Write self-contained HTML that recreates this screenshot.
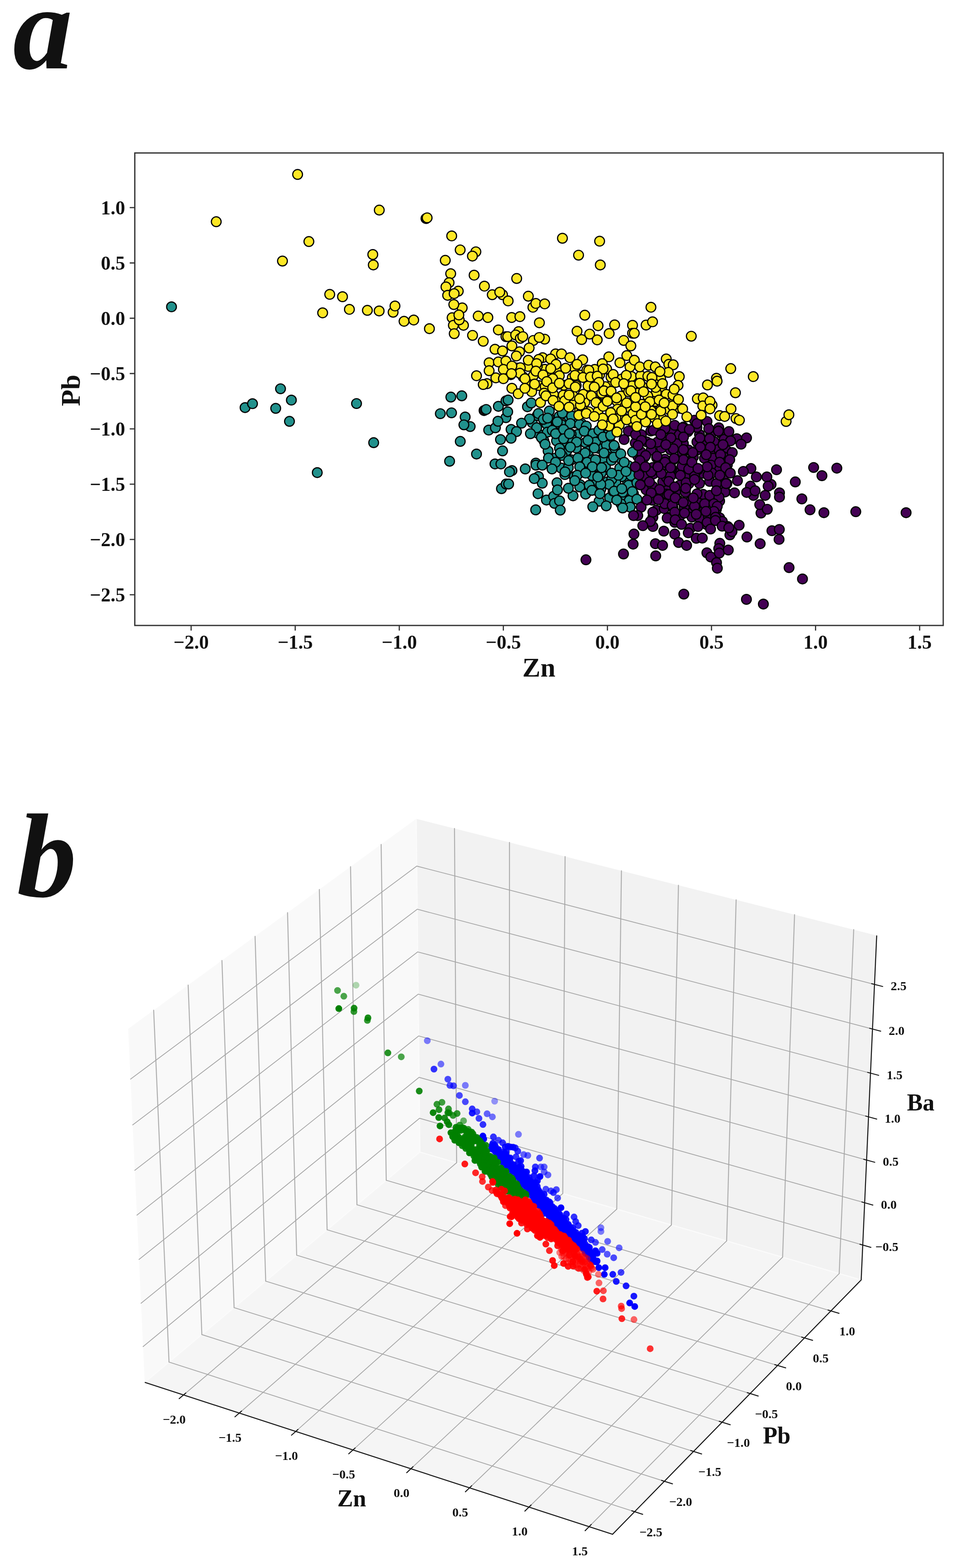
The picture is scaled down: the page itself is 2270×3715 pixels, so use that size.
<!DOCTYPE html>
<html lang="en"><head><meta charset="utf-8"><title>K-means clustering of Zn, Pb and Ba</title>
<style>html,body{margin:0;padding:0;background:#fff}body{width:2270px;height:3715px;overflow:hidden}svg{display:block}text{font-family:"Liberation Serif","DejaVu Serif",serif;font-weight:bold;fill:#111}</style></head><body>
<svg width="2270" height="3715" viewBox="0 0 2270 3715">
<rect width="2270" height="3715" fill="#fff"/>
<text x="30.5" y="162" font-size="283" font-style="italic" fill="#1a1414">a</text>
<text x="40" y="2123.5" font-size="283" font-style="italic" fill="#1a1414">b</text>
<g id="plot-a">
<rect x="319.4" y="362.4" width="1915.6" height="1119.5" fill="#fff" stroke="#333" stroke-width="3"/>
<path d="M452.9 1481.9v12M699.5 1481.9v12M946.1 1481.9v12M1192.7 1481.9v12M1439.3 1481.9v12M1685.9 1481.9v12M1932.5 1481.9v12M2179.1 1481.9v12M319.4 491.9h-12M319.4 623.0h-12M319.4 754.0h-12M319.4 885.0h-12M319.4 1016.1h-12M319.4 1147.1h-12M319.4 1278.1h-12M319.4 1409.2h-12" stroke="#333" stroke-width="2.8" fill="none"/>
<g font-size="46" text-anchor="middle">
<text x="452.9" y="1537">−2.0</text>
<text x="699.5" y="1537">−1.5</text>
<text x="946.1" y="1537">−1.0</text>
<text x="1192.7" y="1537">−0.5</text>
<text x="1439.3" y="1537">0.0</text>
<text x="1685.9" y="1537">0.5</text>
<text x="1932.5" y="1537">1.0</text>
<text x="2179.1" y="1537">1.5</text>
</g>
<g font-size="46" text-anchor="end">
<text x="296.5" y="507.9">1.0</text>
<text x="296.5" y="639.0">0.5</text>
<text x="296.5" y="770.0">0.0</text>
<text x="296.5" y="901.0">−0.5</text>
<text x="296.5" y="1032.1">−1.0</text>
<text x="296.5" y="1163.1">−1.5</text>
<text x="296.5" y="1294.1">−2.0</text>
<text x="296.5" y="1425.2">−2.5</text>
</g>
<text x="1277" y="1603.4" font-size="64" text-anchor="middle">Zn</text>
<text transform="translate(189 925) rotate(-90)" font-size="64" text-anchor="middle">Pb</text>
<g stroke="#000" stroke-width="2.7">
<g fill="#fde725">
<circle cx="1287.6" cy="887.6" r="11.6"/>
</g>
<g fill="#440154">
<circle cx="1684.4" cy="1029.1" r="11.6"/>
</g>
<g fill="#21918c">
<circle cx="1274.2" cy="1026.5" r="11.6"/>
</g>
<g fill="#440154">
<circle cx="1657.5" cy="1029.5" r="11.6"/>
</g>
<g fill="#21918c">
<circle cx="1431.0" cy="1050.0" r="11.6"/>
</g>
<g fill="#440154">
<circle cx="1605.4" cy="1121.8" r="11.6"/>
</g>
<g fill="#fde725">
<circle cx="1276.9" cy="913.4" r="11.6"/>
<circle cx="1480.4" cy="957.9" r="11.6"/>
</g>
<g fill="#21918c">
<circle cx="1444.6" cy="1061.1" r="11.6"/>
</g>
<g fill="#fde725">
<circle cx="1564.6" cy="970.0" r="11.6"/>
<circle cx="1496.3" cy="891.9" r="11.6"/>
</g>
<g fill="#440154">
<circle cx="1567.6" cy="1061.4" r="11.6"/>
</g>
<g fill="#21918c">
<circle cx="1424.6" cy="1120.4" r="11.6"/>
</g>
<g fill="#fde725">
<circle cx="1444.4" cy="928.3" r="11.6"/>
</g>
<g fill="#440154">
<circle cx="1595.0" cy="1089.3" r="11.6"/>
</g>
<g fill="#21918c">
<circle cx="1399.4" cy="1086.2" r="11.6"/>
</g>
<g fill="#440154">
<circle cx="1519.9" cy="1030.0" r="11.6"/>
</g>
<g fill="#21918c">
<circle cx="1488.4" cy="1103.1" r="11.6"/>
</g>
<g fill="#440154">
<circle cx="1632.2" cy="1145.9" r="11.6"/>
</g>
<g fill="#21918c">
<circle cx="1331.0" cy="1006.4" r="11.6"/>
</g>
<g fill="#fde725">
<circle cx="1449.5" cy="976.2" r="11.6"/>
</g>
<g fill="#440154">
<circle cx="1692.2" cy="1046.8" r="11.6"/>
</g>
<g fill="#21918c">
<circle cx="1434.8" cy="1030.7" r="11.6"/>
</g>
<g fill="#440154">
<circle cx="1505.3" cy="1049.5" r="11.6"/>
</g>
<g fill="#fde725">
<circle cx="1336.1" cy="912.8" r="11.6"/>
</g>
<g fill="#21918c">
<circle cx="1295.1" cy="1004.5" r="11.6"/>
<circle cx="1423.8" cy="1158.8" r="11.6"/>
</g>
<g fill="#fde725">
<circle cx="1480.6" cy="991.8" r="11.6"/>
</g>
<g fill="#440154">
<circle cx="1630.0" cy="1022.6" r="11.6"/>
</g>
<g fill="#fde725">
<circle cx="1586.8" cy="971.4" r="11.6"/>
</g>
<g fill="#440154">
<circle cx="1674.5" cy="1242.8" r="11.6"/>
<circle cx="1555.2" cy="1208.9" r="11.6"/>
<circle cx="1697.4" cy="1206.9" r="11.6"/>
<circle cx="1520.9" cy="1106.8" r="11.6"/>
</g>
<g fill="#21918c">
<circle cx="1288.6" cy="1044.2" r="11.6"/>
<circle cx="1467.8" cy="1186.8" r="11.6"/>
</g>
<g fill="#440154">
<circle cx="1651.4" cy="1047.0" r="11.6"/>
<circle cx="1708.6" cy="1026.7" r="11.6"/>
<circle cx="1621.3" cy="1201.2" r="11.6"/>
</g>
<g fill="#21918c">
<circle cx="1487.2" cy="1144.2" r="11.6"/>
</g>
<g fill="#fde725">
<circle cx="1320.0" cy="949.1" r="11.6"/>
</g>
<g fill="#21918c">
<circle cx="1395.1" cy="1103.1" r="11.6"/>
</g>
<g fill="#fde725">
<circle cx="1385.6" cy="953.0" r="11.6"/>
</g>
<g fill="#21918c">
<circle cx="1365.5" cy="1061.4" r="11.6"/>
</g>
<g fill="#fde725">
<circle cx="1360.9" cy="955.5" r="11.6"/>
<circle cx="1290.9" cy="874.9" r="11.6"/>
</g>
<g fill="#21918c">
<circle cx="1324.9" cy="986.6" r="11.6"/>
</g>
<g fill="#fde725">
<circle cx="1451.8" cy="907.6" r="11.6"/>
<circle cx="1414.5" cy="907.4" r="11.6"/>
<circle cx="1434.4" cy="916.1" r="11.6"/>
</g>
<g fill="#21918c">
<circle cx="1387.0" cy="1048.5" r="11.6"/>
<circle cx="1481.2" cy="1183.6" r="11.6"/>
<circle cx="1447.5" cy="1050.1" r="11.6"/>
</g>
<g fill="#440154">
<circle cx="1601.3" cy="1165.1" r="11.6"/>
</g>
<g fill="#fde725">
<circle cx="1514.1" cy="972.0" r="11.6"/>
</g>
<g fill="#21918c">
<circle cx="1473.4" cy="1129.1" r="11.6"/>
</g>
<g fill="#440154">
<circle cx="1652.8" cy="1065.8" r="11.6"/>
<circle cx="1573.9" cy="1204.9" r="11.6"/>
</g>
<g fill="#21918c">
<circle cx="1297.0" cy="1023.8" r="11.6"/>
<circle cx="1337.0" cy="1049.1" r="11.6"/>
<circle cx="1300.9" cy="989.1" r="11.6"/>
</g>
<g fill="#fde725">
<circle cx="1529.4" cy="988.8" r="11.6"/>
</g>
<g fill="#440154">
<circle cx="1584.3" cy="1225.9" r="11.6"/>
<circle cx="1543.0" cy="1066.5" r="11.6"/>
<circle cx="1669.1" cy="1085.8" r="11.6"/>
</g>
<g fill="#fde725">
<circle cx="1425.9" cy="931.6" r="11.6"/>
</g>
<g fill="#21918c">
<circle cx="1374.7" cy="1148.5" r="11.6"/>
</g>
<g fill="#fde725">
<circle cx="1361.3" cy="870.9" r="11.6"/>
<circle cx="1356.0" cy="895.0" r="11.6"/>
<circle cx="1399.6" cy="935.0" r="11.6"/>
</g>
<g fill="#21918c">
<circle cx="1321.2" cy="1022.0" r="11.6"/>
</g>
<g fill="#fde725">
<circle cx="1397.6" cy="895.4" r="11.6"/>
</g>
<g fill="#440154">
<circle cx="1722.6" cy="1068.1" r="11.6"/>
<circle cx="1591.9" cy="1022.9" r="11.6"/>
<circle cx="1618.2" cy="1086.7" r="11.6"/>
</g>
<g fill="#21918c">
<circle cx="1343.7" cy="1067.3" r="11.6"/>
</g>
<g fill="#fde725">
<circle cx="1521.5" cy="915.6" r="11.6"/>
</g>
<g fill="#440154">
<circle cx="1529.6" cy="1128.6" r="11.6"/>
<circle cx="1546.5" cy="1107.8" r="11.6"/>
<circle cx="1530.9" cy="1160.4" r="11.6"/>
</g>
<g fill="#fde725">
<circle cx="1198.3" cy="867.5" r="11.6"/>
<circle cx="1311.2" cy="934.5" r="11.6"/>
<circle cx="1393.4" cy="914.4" r="11.6"/>
</g>
<g fill="#440154">
<circle cx="1642.8" cy="1082.9" r="11.6"/>
<circle cx="1684.1" cy="1071.4" r="11.6"/>
</g>
<g fill="#21918c">
<circle cx="1444.5" cy="1179.2" r="11.6"/>
</g>
<g fill="#440154">
<circle cx="1545.5" cy="1185.0" r="11.6"/>
<circle cx="1616.1" cy="1104.3" r="11.6"/>
<circle cx="1705.1" cy="1226.7" r="11.6"/>
<circle cx="1718.5" cy="1165.1" r="11.6"/>
</g>
<g fill="#21918c">
<circle cx="1414.0" cy="1140.3" r="11.6"/>
</g>
<g fill="#440154">
<circle cx="1690.3" cy="1085.5" r="11.6"/>
</g>
<g fill="#fde725">
<circle cx="1568.5" cy="915.8" r="11.6"/>
<circle cx="1520.4" cy="957.8" r="11.6"/>
</g>
<g fill="#440154">
<circle cx="1642.8" cy="1210.9" r="11.6"/>
</g>
<g fill="#21918c">
<circle cx="1495.1" cy="1126.4" r="11.6"/>
</g>
<g fill="#440154">
<circle cx="1665.0" cy="1121.2" r="11.6"/>
</g>
<g fill="#fde725">
<circle cx="1437.5" cy="874.2" r="11.6"/>
</g>
<g fill="#440154">
<circle cx="1635.9" cy="1187.6" r="11.6"/>
</g>
<g fill="#fde725">
<circle cx="1416.3" cy="976.2" r="11.6"/>
</g>
<g fill="#21918c">
<circle cx="1427.9" cy="1087.3" r="11.6"/>
</g>
<g fill="#440154">
<circle cx="1703.0" cy="1064.4" r="11.6"/>
</g>
<g fill="#fde725">
<circle cx="1542.8" cy="973.4" r="11.6"/>
<circle cx="1611.3" cy="967.4" r="11.6"/>
<circle cx="1430.9" cy="957.1" r="11.6"/>
<circle cx="1496.9" cy="998.2" r="11.6"/>
<circle cx="1319.4" cy="874.3" r="11.6"/>
</g>
<g fill="#440154">
<circle cx="1700.1" cy="1109.2" r="11.6"/>
<circle cx="1669.4" cy="1206.2" r="11.6"/>
</g>
<g fill="#fde725">
<circle cx="1251.3" cy="868.0" r="11.6"/>
</g>
<g fill="#440154">
<circle cx="1681.5" cy="1140.5" r="11.6"/>
</g>
<g fill="#fde725">
<circle cx="1334.6" cy="936.2" r="11.6"/>
</g>
<g fill="#21918c">
<circle cx="1469.0" cy="1085.1" r="11.6"/>
<circle cx="1347.6" cy="986.9" r="11.6"/>
<circle cx="1402.8" cy="1126.5" r="11.6"/>
</g>
<g fill="#fde725">
<circle cx="1467.2" cy="1007.1" r="11.6"/>
</g>
<g fill="#21918c">
<circle cx="1452.7" cy="1163.6" r="11.6"/>
</g>
<g fill="#440154">
<circle cx="1654.1" cy="1191.5" r="11.6"/>
</g>
<g fill="#fde725">
<circle cx="1224.1" cy="871.9" r="11.6"/>
<circle cx="1325.3" cy="890.3" r="11.6"/>
</g>
<g fill="#440154">
<circle cx="1583.0" cy="1151.7" r="11.6"/>
</g>
<g fill="#fde725">
<circle cx="1502.6" cy="949.1" r="11.6"/>
</g>
<g fill="#21918c">
<circle cx="1368.3" cy="1029.4" r="11.6"/>
</g>
<g fill="#fde725">
<circle cx="1493.9" cy="967.5" r="11.6"/>
</g>
<g fill="#21918c">
<circle cx="1390.2" cy="1023.5" r="11.6"/>
<circle cx="1456.0" cy="1126.3" r="11.6"/>
</g>
<g fill="#fde725">
<circle cx="1471.2" cy="938.4" r="11.6"/>
<circle cx="1578.7" cy="934.3" r="11.6"/>
<circle cx="1395.1" cy="975.6" r="11.6"/>
</g>
<g fill="#440154">
<circle cx="1548.0" cy="1122.8" r="11.6"/>
<circle cx="1619.3" cy="1011.7" r="11.6"/>
<circle cx="1527.1" cy="1083.3" r="11.6"/>
</g>
<g fill="#fde725">
<circle cx="1338.0" cy="949.8" r="11.6"/>
</g>
<g fill="#440154">
<circle cx="1619.3" cy="1050.9" r="11.6"/>
<circle cx="1684.9" cy="1102.1" r="11.6"/>
</g>
<g fill="#fde725">
<circle cx="1373.5" cy="972.8" r="11.6"/>
</g>
<g fill="#440154">
<circle cx="1622.8" cy="1129.5" r="11.6"/>
<circle cx="1694.7" cy="1169.6" r="11.6"/>
</g>
<g fill="#fde725">
<circle cx="1510.8" cy="931.6" r="11.6"/>
<circle cx="1570.3" cy="992.8" r="11.6"/>
</g>
<g fill="#21918c">
<circle cx="1353.3" cy="1028.4" r="11.6"/>
</g>
<g fill="#fde725">
<circle cx="1263.5" cy="890.3" r="11.6"/>
<circle cx="1482.7" cy="917.4" r="11.6"/>
<circle cx="1518.0" cy="890.3" r="11.6"/>
</g>
<g fill="#21918c">
<circle cx="1456.8" cy="1061.9" r="11.6"/>
</g>
<g fill="#fde725">
<circle cx="1550.2" cy="989.8" r="11.6"/>
</g>
<g fill="#440154">
<circle cx="1574.5" cy="1045.3" r="11.6"/>
</g>
<g fill="#21918c">
<circle cx="1375.0" cy="1105.3" r="11.6"/>
</g>
<g fill="#fde725">
<circle cx="1428.0" cy="990.8" r="11.6"/>
<circle cx="1447.8" cy="893.5" r="11.6"/>
</g>
<g fill="#21918c">
<circle cx="1394.4" cy="1068.9" r="11.6"/>
</g>
<g fill="#440154">
<circle cx="1631.5" cy="1066.3" r="11.6"/>
<circle cx="1610.8" cy="1149.5" r="11.6"/>
</g>
<g fill="#fde725">
<circle cx="1555.0" cy="930.2" r="11.6"/>
</g>
<g fill="#440154">
<circle cx="1639.6" cy="1225.0" r="11.6"/>
<circle cx="1653.9" cy="1112.5" r="11.6"/>
<circle cx="1556.0" cy="1084.4" r="11.6"/>
</g>
<g fill="#21918c">
<circle cx="1360.5" cy="1129.4" r="11.6"/>
</g>
<g fill="#fde725">
<circle cx="1552.4" cy="951.1" r="11.6"/>
</g>
<g fill="#21918c">
<circle cx="1261.1" cy="1001.4" r="11.6"/>
</g>
<g fill="#440154">
<circle cx="1567.9" cy="1181.0" r="11.6"/>
<circle cx="1705.2" cy="1187.0" r="11.6"/>
<circle cx="1616.8" cy="1071.7" r="11.6"/>
</g>
<g fill="#fde725">
<circle cx="1459.3" cy="989.1" r="11.6"/>
</g>
<g fill="#21918c">
<circle cx="1331.8" cy="1079.0" r="11.6"/>
<circle cx="1417.6" cy="1105.8" r="11.6"/>
</g>
<g fill="#440154">
<circle cx="1511.1" cy="1080.8" r="11.6"/>
</g>
<g fill="#21918c">
<circle cx="1362.5" cy="1002.1" r="11.6"/>
</g>
<g fill="#440154">
<circle cx="1591.2" cy="1110.2" r="11.6"/>
</g>
<g fill="#21918c">
<circle cx="1318.7" cy="1044.5" r="11.6"/>
</g>
<g fill="#fde725">
<circle cx="1461.8" cy="950.5" r="11.6"/>
</g>
<g fill="#440154">
<circle cx="1586.4" cy="1185.8" r="11.6"/>
</g>
<g fill="#21918c">
<circle cx="1434.6" cy="1106.1" r="11.6"/>
<circle cx="1329.5" cy="1108.9" r="11.6"/>
</g>
<g fill="#fde725">
<circle cx="1291.9" cy="915.7" r="11.6"/>
<circle cx="1534.8" cy="938.2" r="11.6"/>
<circle cx="1473.3" cy="898.0" r="11.6"/>
</g>
<g fill="#440154">
<circle cx="1518.1" cy="1070.3" r="11.6"/>
</g>
<g fill="#fde725">
<circle cx="1273.3" cy="867.6" r="11.6"/>
</g>
<g fill="#440154">
<circle cx="1651.5" cy="1012.6" r="11.6"/>
</g>
<g fill="#21918c">
<circle cx="1273.0" cy="984.5" r="11.6"/>
</g>
<g fill="#fde725">
<circle cx="1565.5" cy="897.4" r="11.6"/>
</g>
<g fill="#21918c">
<circle cx="1384.6" cy="1090.1" r="11.6"/>
</g>
<g fill="#440154">
<circle cx="1605.4" cy="1184.4" r="11.6"/>
</g>
<g fill="#fde725">
<circle cx="1365.3" cy="913.4" r="11.6"/>
</g>
<g fill="#21918c">
<circle cx="1346.6" cy="1108.0" r="11.6"/>
<circle cx="1475.7" cy="1166.1" r="11.6"/>
</g>
<g fill="#fde725">
<circle cx="1373.7" cy="888.4" r="11.6"/>
</g>
<g fill="#21918c">
<circle cx="1420.9" cy="1026.5" r="11.6"/>
</g>
<g fill="#440154">
<circle cx="1579.2" cy="1170.6" r="11.6"/>
</g>
<g fill="#fde725">
<circle cx="1420.7" cy="888.1" r="11.6"/>
</g>
<g fill="#440154">
<circle cx="1705.7" cy="1150.4" r="11.6"/>
</g>
<g fill="#fde725">
<circle cx="1357.3" cy="937.2" r="11.6"/>
</g>
<g fill="#21918c">
<circle cx="1439.0" cy="1141.6" r="11.6"/>
</g>
<g fill="#fde725">
<circle cx="1497.8" cy="914.2" r="11.6"/>
<circle cx="1303.9" cy="894.6" r="11.6"/>
</g>
<g fill="#440154">
<circle cx="1569.6" cy="1103.3" r="11.6"/>
</g>
<g fill="#21918c">
<circle cx="1418.0" cy="1062.0" r="11.6"/>
</g>
<g fill="#440154">
<circle cx="1632.1" cy="1111.6" r="11.6"/>
</g>
<g fill="#21918c">
<circle cx="1500.8" cy="1169.7" r="11.6"/>
</g>
<g fill="#440154">
<circle cx="1716.0" cy="1041.1" r="11.6"/>
</g>
<g fill="#21918c">
<circle cx="1402.1" cy="1041.0" r="11.6"/>
</g>
<g fill="#440154">
<circle cx="1532.4" cy="1047.0" r="11.6"/>
</g>
<g fill="#fde725">
<circle cx="1463.3" cy="969.6" r="11.6"/>
<circle cx="1340.3" cy="872.5" r="11.6"/>
</g>
<g fill="#440154">
<circle cx="1575.0" cy="1088.0" r="11.6"/>
<circle cx="1665.9" cy="1171.2" r="11.6"/>
<circle cx="1723.4" cy="1101.6" r="11.6"/>
</g>
<g fill="#21918c">
<circle cx="1459.2" cy="1143.3" r="11.6"/>
<circle cx="1315.4" cy="1085.6" r="11.6"/>
<circle cx="1355.3" cy="1040.6" r="11.6"/>
</g>
<g fill="#fde725">
<circle cx="1253.4" cy="913.1" r="11.6"/>
<circle cx="1381.8" cy="934.2" r="11.6"/>
</g>
<g fill="#440154">
<circle cx="1657.6" cy="1227.2" r="11.6"/>
<circle cx="1594.4" cy="1202.4" r="11.6"/>
</g>
<g fill="#21918c">
<circle cx="1318.9" cy="1003.6" r="11.6"/>
</g>
<g fill="#440154">
<circle cx="1624.0" cy="1166.3" r="11.6"/>
</g>
<g fill="#fde725">
<circle cx="1489.8" cy="928.5" r="11.6"/>
<circle cx="1289.3" cy="931.4" r="11.6"/>
<circle cx="1390.8" cy="876.8" r="11.6"/>
<circle cx="1239.1" cy="892.5" r="11.6"/>
</g>
<g fill="#440154">
<circle cx="1546.4" cy="1152.2" r="11.6"/>
</g>
<g fill="#21918c">
<circle cx="1338.5" cy="1124.4" r="11.6"/>
</g>
<g fill="#fde725">
<circle cx="1572.2" cy="952.6" r="11.6"/>
</g>
<g fill="#440154">
<circle cx="1651.6" cy="1169.9" r="11.6"/>
</g>
<g fill="#21918c">
<circle cx="1353.4" cy="1089.5" r="11.6"/>
</g>
<g fill="#440154">
<circle cx="1715.4" cy="1126.6" r="11.6"/>
<circle cx="1645.8" cy="1128.6" r="11.6"/>
</g>
<g fill="#fde725">
<circle cx="1592.1" cy="958.3" r="11.6"/>
</g>
<g fill="#440154">
<circle cx="1669.6" cy="1043.1" r="11.6"/>
</g>
<g fill="#21918c">
<circle cx="1396.2" cy="1149.7" r="11.6"/>
</g>
<g fill="#440154">
<circle cx="1722.4" cy="1145.8" r="11.6"/>
<circle cx="1569.0" cy="1021.6" r="11.6"/>
</g>
<g fill="#fde725">
<circle cx="1414.6" cy="952.2" r="11.6"/>
</g>
<g fill="#440154">
<circle cx="1657.5" cy="1145.5" r="11.6"/>
</g>
<g fill="#fde725">
<circle cx="1535.1" cy="891.5" r="11.6"/>
</g>
<g fill="#21918c">
<circle cx="1409.1" cy="1161.1" r="11.6"/>
<circle cx="1449.0" cy="1090.5" r="11.6"/>
</g>
<g fill="#fde725">
<circle cx="1210.3" cy="887.7" r="11.6"/>
</g>
<g fill="#440154">
<circle cx="1682.3" cy="1184.2" r="11.6"/>
</g>
<g fill="#21918c">
<circle cx="1298.7" cy="1068.5" r="11.6"/>
</g>
<g fill="#fde725">
<circle cx="1550.6" cy="909.5" r="11.6"/>
</g>
<g fill="#440154">
<circle cx="1542.1" cy="1021.1" r="11.6"/>
</g>
<g fill="#fde725">
<circle cx="1323.4" cy="910.0" r="11.6"/>
</g>
<g fill="#440154">
<circle cx="1557.9" cy="1047.4" r="11.6"/>
<circle cx="1687.0" cy="1120.8" r="11.6"/>
</g>
<g fill="#21918c">
<circle cx="1379.2" cy="1118.5" r="11.6"/>
</g>
<g fill="#440154">
<circle cx="1588.7" cy="1065.6" r="11.6"/>
<circle cx="1558.5" cy="1169.9" r="11.6"/>
</g>
<g fill="#21918c">
<circle cx="1325.8" cy="1062.2" r="11.6"/>
</g>
<g fill="#440154">
<circle cx="1715.1" cy="1082.5" r="11.6"/>
<circle cx="1612.6" cy="1220.7" r="11.6"/>
<circle cx="1609.3" cy="1030.3" r="11.6"/>
<circle cx="1603.9" cy="1051.5" r="11.6"/>
</g>
<g fill="#21918c">
<circle cx="1468.6" cy="1109.0" r="11.6"/>
</g>
<g fill="#440154">
<circle cx="1678.7" cy="1223.4" r="11.6"/>
<circle cx="1570.4" cy="1141.5" r="11.6"/>
</g>
<g fill="#21918c">
<circle cx="1377.2" cy="1002.9" r="11.6"/>
</g>
<g fill="#440154">
<circle cx="1579.0" cy="1131.3" r="11.6"/>
</g>
<g fill="#fde725">
<circle cx="705.2" cy="413.3" r="11.6"/>
<circle cx="512.4" cy="525.3" r="11.6"/>
<circle cx="731.9" cy="572.3" r="11.6"/>
<circle cx="669.3" cy="618.5" r="11.6"/>
<circle cx="883.3" cy="603.0" r="11.6"/>
<circle cx="884.5" cy="627.7" r="11.6"/>
<circle cx="781.3" cy="697.4" r="11.6"/>
<circle cx="811.6" cy="703.0" r="11.6"/>
<circle cx="827.9" cy="732.9" r="11.6"/>
<circle cx="870.5" cy="735.3" r="11.6"/>
</g>
<g fill="#21918c">
<circle cx="406.4" cy="726.9" r="11.6"/>
</g>
<g fill="#fde725">
<circle cx="898.7" cy="497.8" r="11.6"/>
</g>
<g fill="#111">
<circle cx="1009.4" cy="517.7" r="11.6"/>
</g>
<g fill="#fde725">
<circle cx="1012.1" cy="516.1" r="11.6"/>
<circle cx="1070.3" cy="558.9" r="11.6"/>
<circle cx="1090.4" cy="592.1" r="11.6"/>
<circle cx="1127.6" cy="596.6" r="11.6"/>
<circle cx="1119.4" cy="606.7" r="11.6"/>
<circle cx="1055.1" cy="616.8" r="11.6"/>
<circle cx="1067.9" cy="648.4" r="11.6"/>
<circle cx="1123.4" cy="651.9" r="11.6"/>
<circle cx="1224.3" cy="659.8" r="11.6"/>
<circle cx="1064.1" cy="669.7" r="11.6"/>
<circle cx="1056.7" cy="679.7" r="11.6"/>
<circle cx="1085.9" cy="689.8" r="11.6"/>
<circle cx="1060.7" cy="699.7" r="11.6"/>
<circle cx="1076.1" cy="695.7" r="11.6"/>
<circle cx="1147.8" cy="677.9" r="11.6"/>
<circle cx="1166.4" cy="698.3" r="11.6"/>
<circle cx="1190.8" cy="698.3" r="11.6"/>
<circle cx="1184.2" cy="692.2" r="11.6"/>
<circle cx="1204.1" cy="712.9" r="11.6"/>
<circle cx="1251.9" cy="701.8" r="11.6"/>
<circle cx="1332.7" cy="564.5" r="11.6"/>
<circle cx="1420.8" cy="571.4" r="11.6"/>
<circle cx="1370.9" cy="604.6" r="11.6"/>
<circle cx="1422.4" cy="627.7" r="11.6"/>
<circle cx="764.5" cy="741.2" r="11.6"/>
<circle cx="898.4" cy="736.7" r="11.6"/>
</g>
<g fill="#21918c">
<circle cx="664.7" cy="921.1" r="11.6"/>
<circle cx="690.4" cy="947.9" r="11.6"/>
<circle cx="580.7" cy="965.7" r="11.6"/>
<circle cx="598.3" cy="956.4" r="11.6"/>
<circle cx="653.3" cy="967.5" r="11.6"/>
<circle cx="844.8" cy="956.1" r="11.6"/>
<circle cx="685.9" cy="998.3" r="11.6"/>
<circle cx="885.4" cy="1048.8" r="11.6"/>
<circle cx="751.8" cy="1119.7" r="11.6"/>
</g>
<g fill="#fde725">
<circle cx="931.5" cy="739.8" r="11.6"/>
<circle cx="935.9" cy="724.9" r="11.6"/>
<circle cx="957.4" cy="761.2" r="11.6"/>
<circle cx="980.3" cy="758.2" r="11.6"/>
<circle cx="1017.5" cy="778.7" r="11.6"/>
<circle cx="1095.2" cy="729.5" r="11.6"/>
<circle cx="1075.3" cy="721.5" r="11.6"/>
<circle cx="1071.3" cy="752.8" r="11.6"/>
<circle cx="1074.3" cy="770.7" r="11.6"/>
<circle cx="1098.2" cy="770.7" r="11.6"/>
<circle cx="1088.2" cy="757.8" r="11.6"/>
<circle cx="1087.3" cy="746.2" r="11.6"/>
<circle cx="1076.3" cy="790.6" r="11.6"/>
<circle cx="1133.1" cy="748.8" r="11.6"/>
<circle cx="1156.0" cy="752.2" r="11.6"/>
<circle cx="1119.7" cy="794.6" r="11.6"/>
<circle cx="1145.0" cy="808.6" r="11.6"/>
<circle cx="1180.9" cy="781.7" r="11.6"/>
<circle cx="1198.8" cy="797.6" r="11.6"/>
<circle cx="1172.9" cy="827.5" r="11.6"/>
<circle cx="1190.8" cy="831.5" r="11.6"/>
<circle cx="1159.0" cy="859.4" r="11.6"/>
<circle cx="1180.9" cy="857.4" r="11.6"/>
<circle cx="1198.8" cy="855.4" r="11.6"/>
<circle cx="1174.9" cy="895.2" r="11.6"/>
<circle cx="1159.0" cy="878.3" r="11.6"/>
<circle cx="1192.8" cy="875.3" r="11.6"/>
<circle cx="1129.1" cy="890.2" r="11.6"/>
<circle cx="1192.8" cy="897.2" r="11.6"/>
<circle cx="1262.7" cy="727.9" r="11.6"/>
<circle cx="1269.7" cy="718.9" r="11.6"/>
<circle cx="1290.6" cy="719.9" r="11.6"/>
<circle cx="1212.4" cy="752.2" r="11.6"/>
<circle cx="1231.9" cy="750.2" r="11.6"/>
<circle cx="1278.1" cy="764.7" r="11.6"/>
<circle cx="1385.7" cy="746.8" r="11.6"/>
<circle cx="1417.1" cy="771.7" r="11.6"/>
<circle cx="1456.4" cy="769.7" r="11.6"/>
<circle cx="1498.8" cy="770.7" r="11.6"/>
<circle cx="1378.3" cy="804.6" r="11.6"/>
<circle cx="1367.3" cy="784.7" r="11.6"/>
<circle cx="1397.2" cy="791.6" r="11.6"/>
<circle cx="1415.1" cy="805.2" r="11.6"/>
<circle cx="1443.4" cy="790.2" r="11.6"/>
<circle cx="1477.9" cy="806.6" r="11.6"/>
<circle cx="1498.8" cy="789.6" r="11.6"/>
<circle cx="1494.8" cy="819.5" r="11.6"/>
<circle cx="1228.9" cy="785.7" r="11.6"/>
<circle cx="1203.0" cy="797.6" r="11.6"/>
<circle cx="1221.9" cy="793.6" r="11.6"/>
<circle cx="1232.9" cy="801.6" r="11.6"/>
<circle cx="1238.8" cy="797.6" r="11.6"/>
<circle cx="1263.7" cy="806.6" r="11.6"/>
<circle cx="1290.6" cy="803.6" r="11.6"/>
<circle cx="1277.7" cy="799.6" r="11.6"/>
<circle cx="1230.9" cy="833.5" r="11.6"/>
<circle cx="1212.9" cy="819.5" r="11.6"/>
<circle cx="1253.8" cy="824.5" r="11.6"/>
<circle cx="1223.5" cy="843.4" r="11.6"/>
<circle cx="1316.5" cy="838.4" r="11.6"/>
<circle cx="1330.5" cy="838.4" r="11.6"/>
<circle cx="1350.4" cy="847.4" r="11.6"/>
<circle cx="1380.7" cy="852.4" r="11.6"/>
<circle cx="1442.6" cy="845.4" r="11.6"/>
<circle cx="1485.3" cy="842.4" r="11.6"/>
<circle cx="1468.9" cy="859.4" r="11.6"/>
<circle cx="1285.7" cy="847.4" r="11.6"/>
<circle cx="1251.8" cy="853.4" r="11.6"/>
<circle cx="1276.7" cy="851.4" r="11.6"/>
<circle cx="1271.7" cy="861.4" r="11.6"/>
<circle cx="1304.6" cy="850.4" r="11.6"/>
<circle cx="1317.5" cy="863.3" r="11.6"/>
<circle cx="1305.0" cy="873.3" r="11.6"/>
<circle cx="1367.3" cy="863.3" r="11.6"/>
<circle cx="1409.2" cy="875.3" r="11.6"/>
<circle cx="1395.2" cy="877.3" r="11.6"/>
<circle cx="1427.1" cy="861.4" r="11.6"/>
<circle cx="1429.1" cy="874.3" r="11.6"/>
<circle cx="1492.8" cy="869.3" r="11.6"/>
<circle cx="1232.9" cy="871.3" r="11.6"/>
<circle cx="1212.9" cy="867.3" r="11.6"/>
<circle cx="1231.9" cy="884.3" r="11.6"/>
<circle cx="1212.0" cy="885.3" r="11.6"/>
<circle cx="1269.7" cy="879.3" r="11.6"/>
<circle cx="1286.7" cy="888.2" r="11.6"/>
<circle cx="1243.8" cy="897.2" r="11.6"/>
<circle cx="1309.6" cy="897.2" r="11.6"/>
<circle cx="1362.4" cy="889.2" r="11.6"/>
<circle cx="1381.3" cy="894.2" r="11.6"/>
<circle cx="1399.2" cy="893.2" r="11.6"/>
<circle cx="1415.1" cy="891.2" r="11.6"/>
<circle cx="1453.0" cy="887.3" r="11.6"/>
<circle cx="1483.9" cy="889.2" r="11.6"/>
<circle cx="1542.4" cy="727.9" r="11.6"/>
<circle cx="1530.9" cy="770.1" r="11.6"/>
<circle cx="1546.2" cy="762.4" r="11.6"/>
<circle cx="1503.0" cy="789.6" r="11.6"/>
<circle cx="1638.0" cy="796.6" r="11.6"/>
<circle cx="1503.0" cy="853.4" r="11.6"/>
<circle cx="1515.9" cy="869.3" r="11.6"/>
<circle cx="1536.9" cy="865.3" r="11.6"/>
<circle cx="1552.8" cy="869.3" r="11.6"/>
<circle cx="1578.7" cy="850.4" r="11.6"/>
<circle cx="1584.7" cy="863.3" r="11.6"/>
<circle cx="1595.2" cy="864.3" r="11.6"/>
<circle cx="1583.7" cy="882.3" r="11.6"/>
<circle cx="1563.7" cy="880.3" r="11.6"/>
<circle cx="1609.6" cy="892.2" r="11.6"/>
<circle cx="1544.8" cy="894.2" r="11.6"/>
<circle cx="1731.5" cy="873.3" r="11.6"/>
<circle cx="1697.6" cy="896.2" r="11.6"/>
<circle cx="1784.9" cy="892.2" r="11.6"/>
<circle cx="1154.0" cy="909.0" r="11.6"/>
<circle cx="1145.0" cy="911.0" r="11.6"/>
</g>
<g fill="#21918c">
<circle cx="1068.3" cy="940.8" r="11.6"/>
<circle cx="1094.2" cy="937.8" r="11.6"/>
<circle cx="1043.4" cy="980.1" r="11.6"/>
<circle cx="1069.9" cy="978.1" r="11.6"/>
<circle cx="1102.2" cy="988.0" r="11.6"/>
<circle cx="1114.1" cy="1010.6" r="11.6"/>
<circle cx="1099.2" cy="1006.6" r="11.6"/>
</g>
<g fill="#111">
<circle cx="1147.0" cy="972.7" r="11.6"/>
</g>
<g fill="#21918c">
<circle cx="1152.0" cy="970.1" r="11.6"/>
<circle cx="1180.9" cy="962.7" r="11.6"/>
<circle cx="1198.8" cy="949.8" r="11.6"/>
<circle cx="1198.8" cy="989.6" r="11.6"/>
<circle cx="1158.0" cy="1018.9" r="11.6"/>
<circle cx="1173.9" cy="1013.5" r="11.6"/>
<circle cx="1179.9" cy="998.0" r="11.6"/>
<circle cx="1090.6" cy="1045.8" r="11.6"/>
<circle cx="1129.1" cy="1075.7" r="11.6"/>
<circle cx="1065.3" cy="1092.8" r="11.6"/>
<circle cx="1185.9" cy="1041.4" r="11.6"/>
<circle cx="1190.8" cy="1068.3" r="11.6"/>
<circle cx="1172.9" cy="1099.2" r="11.6"/>
<circle cx="1186.9" cy="1099.2" r="11.6"/>
<circle cx="1204.0" cy="947.8" r="11.6"/>
<circle cx="1203.0" cy="975.7" r="11.6"/>
<circle cx="1249.8" cy="963.7" r="11.6"/>
<circle cx="1258.8" cy="954.8" r="11.6"/>
<circle cx="1275.7" cy="979.7" r="11.6"/>
<circle cx="1254.8" cy="992.6" r="11.6"/>
<circle cx="1235.9" cy="1002.6" r="11.6"/>
<circle cx="1301.6" cy="973.7" r="11.6"/>
<circle cx="1287.6" cy="993.6" r="11.6"/>
<circle cx="1297.6" cy="990.6" r="11.6"/>
<circle cx="1332.5" cy="978.7" r="11.6"/>
<circle cx="1354.4" cy="985.7" r="11.6"/>
<circle cx="1320.5" cy="999.6" r="11.6"/>
<circle cx="1351.4" cy="1003.6" r="11.6"/>
<circle cx="1271.7" cy="1013.5" r="11.6"/>
<circle cx="1211.0" cy="1017.5" r="11.6"/>
<circle cx="1223.9" cy="1022.5" r="11.6"/>
<circle cx="1256.8" cy="1027.5" r="11.6"/>
<circle cx="1211.0" cy="1038.4" r="11.6"/>
<circle cx="1282.7" cy="1036.5" r="11.6"/>
<circle cx="1308.6" cy="1019.5" r="11.6"/>
<circle cx="1316.5" cy="1027.5" r="11.6"/>
<circle cx="1335.5" cy="1017.5" r="11.6"/>
<circle cx="1335.5" cy="1039.4" r="11.6"/>
<circle cx="1291.6" cy="1052.4" r="11.6"/>
<circle cx="1349.4" cy="1027.5" r="11.6"/>
<circle cx="1373.3" cy="1005.6" r="11.6"/>
<circle cx="1389.2" cy="1009.6" r="11.6"/>
<circle cx="1384.3" cy="1021.5" r="11.6"/>
<circle cx="1405.2" cy="1027.5" r="11.6"/>
<circle cx="1419.1" cy="1019.5" r="11.6"/>
<circle cx="1366.3" cy="1047.4" r="11.6"/>
<circle cx="1411.2" cy="1047.4" r="11.6"/>
<circle cx="1393.2" cy="1043.4" r="11.6"/>
<circle cx="1351.4" cy="1059.4" r="11.6"/>
<circle cx="1327.5" cy="1073.3" r="11.6"/>
<circle cx="1386.3" cy="1073.3" r="11.6"/>
<circle cx="1408.2" cy="1061.4" r="11.6"/>
<circle cx="1437.1" cy="1054.4" r="11.6"/>
<circle cx="1429.1" cy="1035.5" r="11.6"/>
<circle cx="1447.0" cy="1031.5" r="11.6"/>
<circle cx="1431.1" cy="1073.3" r="11.6"/>
<circle cx="1455.0" cy="1055.4" r="11.6"/>
<circle cx="1454.0" cy="1083.3" r="11.6"/>
<circle cx="1470.9" cy="1075.3" r="11.6"/>
<circle cx="1299.6" cy="1085.3" r="11.6"/>
<circle cx="1269.7" cy="1097.2" r="11.6"/>
<circle cx="1316.5" cy="1095.2" r="11.6"/>
<circle cx="1347.4" cy="1091.2" r="11.6"/>
<circle cx="1369.3" cy="1085.3" r="11.6"/>
<circle cx="1391.2" cy="1095.2" r="11.6"/>
<circle cx="1411.2" cy="1089.2" r="11.6"/>
<circle cx="1478.9" cy="1095.2" r="11.6"/>
<circle cx="1498.8" cy="1071.3" r="11.6"/>
</g>
<g fill="#440154">
<circle cx="1488.8" cy="1021.5" r="11.6"/>
<circle cx="1478.9" cy="1041.4" r="11.6"/>
</g>
<g fill="#fde725">
<circle cx="1259.8" cy="927.9" r="11.6"/>
<circle cx="1212.9" cy="919.9" r="11.6"/>
<circle cx="1227.9" cy="932.9" r="11.6"/>
<circle cx="1243.8" cy="919.9" r="11.6"/>
<circle cx="1266.7" cy="910.0" r="11.6"/>
<circle cx="1295.6" cy="904.0" r="11.6"/>
<circle cx="1280.7" cy="953.8" r="11.6"/>
<circle cx="1293.6" cy="937.8" r="11.6"/>
<circle cx="1309.6" cy="918.9" r="11.6"/>
<circle cx="1310.6" cy="948.8" r="11.6"/>
<circle cx="1325.5" cy="908.0" r="11.6"/>
<circle cx="1324.5" cy="962.7" r="11.6"/>
<circle cx="1348.4" cy="909.0" r="11.6"/>
<circle cx="1363.3" cy="916.9" r="11.6"/>
<circle cx="1348.4" cy="935.9" r="11.6"/>
<circle cx="1379.3" cy="969.7" r="11.6"/>
<circle cx="1375.3" cy="959.8" r="11.6"/>
<circle cx="1371.3" cy="983.7" r="11.6"/>
<circle cx="1389.2" cy="979.7" r="11.6"/>
<circle cx="1348.4" cy="964.7" r="11.6"/>
<circle cx="1373.3" cy="944.8" r="11.6"/>
<circle cx="1419.1" cy="906.0" r="11.6"/>
<circle cx="1408.2" cy="916.9" r="11.6"/>
<circle cx="1401.2" cy="937.8" r="11.6"/>
<circle cx="1412.2" cy="953.8" r="11.6"/>
<circle cx="1429.1" cy="962.7" r="11.6"/>
<circle cx="1431.1" cy="925.9" r="11.6"/>
<circle cx="1448.0" cy="926.9" r="11.6"/>
<circle cx="1439.0" cy="950.8" r="11.6"/>
<circle cx="1408.2" cy="986.7" r="11.6"/>
<circle cx="1443.0" cy="1009.6" r="11.6"/>
<circle cx="1427.1" cy="1006.6" r="11.6"/>
<circle cx="1447.0" cy="977.7" r="11.6"/>
<circle cx="1453.0" cy="992.6" r="11.6"/>
<circle cx="1461.0" cy="942.8" r="11.6"/>
<circle cx="1472.9" cy="973.7" r="11.6"/>
<circle cx="1484.9" cy="954.8" r="11.6"/>
<circle cx="1484.9" cy="994.6" r="11.6"/>
<circle cx="1459.0" cy="906.0" r="11.6"/>
<circle cx="1477.9" cy="909.0" r="11.6"/>
<circle cx="1462.0" cy="1023.5" r="11.6"/>
<circle cx="1494.8" cy="925.9" r="11.6"/>
</g>
<g fill="#440154">
<circle cx="1645.4" cy="995.6" r="11.6"/>
<circle cx="1651.4" cy="1003.6" r="11.6"/>
<circle cx="1675.3" cy="998.6" r="11.6"/>
<circle cx="1598.6" cy="1007.6" r="11.6"/>
<circle cx="1617.5" cy="1013.5" r="11.6"/>
<circle cx="1633.5" cy="1017.5" r="11.6"/>
<circle cx="1679.3" cy="1015.5" r="11.6"/>
<circle cx="1703.2" cy="1013.5" r="11.6"/>
<circle cx="1702.2" cy="1021.5" r="11.6"/>
<circle cx="1727.1" cy="1022.5" r="11.6"/>
<circle cx="1575.7" cy="1015.5" r="11.6"/>
<circle cx="1547.8" cy="1019.5" r="11.6"/>
<circle cx="1506.0" cy="1029.5" r="11.6"/>
<circle cx="1519.9" cy="1043.4" r="11.6"/>
<circle cx="1541.8" cy="1051.4" r="11.6"/>
<circle cx="1565.7" cy="1029.5" r="11.6"/>
<circle cx="1589.6" cy="1037.5" r="11.6"/>
<circle cx="1619.5" cy="1035.5" r="11.6"/>
<circle cx="1658.4" cy="1037.5" r="11.6"/>
<circle cx="1681.3" cy="1039.4" r="11.6"/>
<circle cx="1746.0" cy="1039.4" r="11.6"/>
<circle cx="1731.1" cy="1044.4" r="11.6"/>
<circle cx="1768.9" cy="1037.5" r="11.6"/>
<circle cx="1756.0" cy="1052.4" r="11.6"/>
<circle cx="1713.1" cy="1053.4" r="11.6"/>
<circle cx="1659.4" cy="1059.4" r="11.6"/>
<circle cx="1683.3" cy="1059.4" r="11.6"/>
<circle cx="1595.6" cy="1063.3" r="11.6"/>
<circle cx="1619.5" cy="1065.3" r="11.6"/>
<circle cx="1577.7" cy="1053.4" r="11.6"/>
<circle cx="1641.4" cy="1072.3" r="11.6"/>
<circle cx="1673.3" cy="1077.3" r="11.6"/>
<circle cx="1707.2" cy="1077.3" r="11.6"/>
<circle cx="1735.1" cy="1072.3" r="11.6"/>
<circle cx="1512.0" cy="1055.4" r="11.6"/>
<circle cx="1556.8" cy="1081.3" r="11.6"/>
<circle cx="1529.9" cy="1079.3" r="11.6"/>
<circle cx="1619.5" cy="1089.2" r="11.6"/>
<circle cx="1597.6" cy="1086.3" r="11.6"/>
<circle cx="1575.7" cy="1095.2" r="11.6"/>
<circle cx="1515.9" cy="1091.2" r="11.6"/>
<circle cx="1705.2" cy="1095.2" r="11.6"/>
<circle cx="1729.1" cy="1089.2" r="11.6"/>
<circle cx="1639.4" cy="1095.2" r="11.6"/>
</g>
<g fill="#fde725">
<circle cx="1500.0" cy="979.7" r="11.6"/>
<circle cx="1506.0" cy="995.6" r="11.6"/>
<circle cx="1529.9" cy="999.6" r="11.6"/>
<circle cx="1557.8" cy="1003.6" r="11.6"/>
<circle cx="1565.7" cy="973.7" r="11.6"/>
<circle cx="1593.6" cy="961.8" r="11.6"/>
<circle cx="1506.0" cy="963.7" r="11.6"/>
<circle cx="1519.9" cy="981.7" r="11.6"/>
<circle cx="1539.8" cy="951.8" r="11.6"/>
<circle cx="1561.8" cy="947.8" r="11.6"/>
<circle cx="1594.6" cy="935.9" r="11.6"/>
<circle cx="1606.6" cy="912.9" r="11.6"/>
<circle cx="1597.6" cy="921.9" r="11.6"/>
<circle cx="1553.8" cy="917.9" r="11.6"/>
<circle cx="1543.8" cy="910.0" r="11.6"/>
<circle cx="1515.9" cy="908.0" r="11.6"/>
<circle cx="1524.9" cy="927.9" r="11.6"/>
<circle cx="1569.7" cy="909.0" r="11.6"/>
<circle cx="1506.0" cy="941.8" r="11.6"/>
<circle cx="1607.6" cy="946.2" r="11.6"/>
<circle cx="1573.7" cy="954.8" r="11.6"/>
<circle cx="1528.9" cy="963.7" r="11.6"/>
<circle cx="1543.8" cy="981.7" r="11.6"/>
<circle cx="1617.5" cy="968.7" r="11.6"/>
<circle cx="1593.6" cy="981.7" r="11.6"/>
<circle cx="1577.7" cy="997.6" r="11.6"/>
<circle cx="1627.5" cy="987.6" r="11.6"/>
<circle cx="1509.0" cy="1010.6" r="11.6"/>
<circle cx="1676.3" cy="912.0" r="11.6"/>
<circle cx="1699.2" cy="903.0" r="11.6"/>
<circle cx="1742.6" cy="930.5" r="11.6"/>
<circle cx="1652.4" cy="944.8" r="11.6"/>
<circle cx="1666.3" cy="942.8" r="11.6"/>
<circle cx="1687.3" cy="959.8" r="11.6"/>
<circle cx="1665.3" cy="961.8" r="11.6"/>
<circle cx="1682.3" cy="950.8" r="11.6"/>
<circle cx="1682.3" cy="968.7" r="11.6"/>
<circle cx="1661.4" cy="983.7" r="11.6"/>
<circle cx="1732.1" cy="968.7" r="11.6"/>
<circle cx="1705.2" cy="984.7" r="11.6"/>
<circle cx="1717.1" cy="986.7" r="11.6"/>
<circle cx="1744.0" cy="991.6" r="11.6"/>
<circle cx="1752.0" cy="995.6" r="11.6"/>
<circle cx="1862.7" cy="998.6" r="11.6"/>
<circle cx="1869.3" cy="982.7" r="11.6"/>
</g>
<g fill="#21918c">
<circle cx="1213.1" cy="1114.9" r="11.6"/>
<circle cx="1207.2" cy="1117.9" r="11.6"/>
<circle cx="1244.6" cy="1111.0" r="11.6"/>
<circle cx="1269.9" cy="1102.0" r="11.6"/>
<circle cx="1284.9" cy="1102.0" r="11.6"/>
<circle cx="1275.9" cy="1128.9" r="11.6"/>
<circle cx="1284.9" cy="1144.8" r="11.6"/>
<circle cx="1265.9" cy="1133.9" r="11.6"/>
<circle cx="1188.2" cy="1157.8" r="11.6"/>
<circle cx="1199.2" cy="1146.8" r="11.6"/>
<circle cx="1205.2" cy="1146.8" r="11.6"/>
<circle cx="1274.9" cy="1169.7" r="11.6"/>
<circle cx="1294.8" cy="1184.7" r="11.6"/>
<circle cx="1269.3" cy="1208.0" r="11.6"/>
<circle cx="1373.7" cy="1106.0" r="11.6"/>
<circle cx="1403.6" cy="1106.0" r="11.6"/>
<circle cx="1367.7" cy="1125.9" r="11.6"/>
<circle cx="1319.9" cy="1143.8" r="11.6"/>
<circle cx="1373.7" cy="1153.8" r="11.6"/>
<circle cx="1357.8" cy="1174.7" r="11.6"/>
<circle cx="1312.0" cy="1175.7" r="11.6"/>
<circle cx="1313.9" cy="1192.6" r="11.6"/>
<circle cx="1449.4" cy="1135.9" r="11.6"/>
<circle cx="1443.4" cy="1147.8" r="11.6"/>
<circle cx="1423.5" cy="1147.8" r="11.6"/>
<circle cx="1387.6" cy="1170.7" r="11.6"/>
<circle cx="1419.5" cy="1187.6" r="11.6"/>
<circle cx="1455.4" cy="1163.7" r="11.6"/>
<circle cx="1465.3" cy="1125.9" r="11.6"/>
<circle cx="1489.2" cy="1149.8" r="11.6"/>
<circle cx="1509.2" cy="1143.8" r="11.6"/>
<circle cx="1491.2" cy="1185.7" r="11.6"/>
<circle cx="1471.3" cy="1193.6" r="11.6"/>
<circle cx="1493.2" cy="1201.6" r="11.6"/>
<circle cx="1475.3" cy="1203.6" r="11.6"/>
<circle cx="1308.0" cy="1111.0" r="11.6"/>
<circle cx="1338.8" cy="1117.9" r="11.6"/>
<circle cx="1320.9" cy="1160.8" r="11.6"/>
<circle cx="1346.8" cy="1156.8" r="11.6"/>
<circle cx="1361.8" cy="1138.8" r="11.6"/>
<circle cx="1387.6" cy="1120.9" r="11.6"/>
<circle cx="1325.9" cy="1186.7" r="11.6"/>
<circle cx="1327.5" cy="1208.6" r="11.6"/>
<circle cx="1416.5" cy="1129.9" r="11.6"/>
<circle cx="1425.5" cy="1108.0" r="11.6"/>
<circle cx="1449.4" cy="1120.9" r="11.6"/>
<circle cx="1402.6" cy="1161.8" r="11.6"/>
<circle cx="1421.5" cy="1169.7" r="11.6"/>
<circle cx="1404.6" cy="1200.6" r="11.6"/>
<circle cx="1436.5" cy="1198.6" r="11.6"/>
<circle cx="1461.4" cy="1184.7" r="11.6"/>
<circle cx="1473.3" cy="1157.8" r="11.6"/>
<circle cx="1483.3" cy="1116.9" r="11.6"/>
<circle cx="1498.2" cy="1164.7" r="11.6"/>
<circle cx="1509.2" cy="1182.7" r="11.6"/>
</g>
<g fill="#440154">
<circle cx="1588.8" cy="1127.9" r="11.6"/>
<circle cx="1539.0" cy="1141.8" r="11.6"/>
<circle cx="1562.9" cy="1159.8" r="11.6"/>
<circle cx="1543.0" cy="1167.7" r="11.6"/>
<circle cx="1574.9" cy="1193.6" r="11.6"/>
<circle cx="1519.1" cy="1201.6" r="11.6"/>
<circle cx="1511.2" cy="1221.5" r="11.6"/>
<circle cx="1547.0" cy="1225.5" r="11.6"/>
<circle cx="1547.0" cy="1247.4" r="11.6"/>
<circle cx="1553.0" cy="1288.2" r="11.6"/>
<circle cx="1598.8" cy="1237.5" r="11.6"/>
<circle cx="1514.1" cy="1124.9" r="11.6"/>
<circle cx="1543.0" cy="1117.9" r="11.6"/>
<circle cx="1566.9" cy="1121.9" r="11.6"/>
<circle cx="1517.1" cy="1148.8" r="11.6"/>
<circle cx="1584.9" cy="1140.8" r="11.6"/>
<circle cx="1533.1" cy="1184.7" r="11.6"/>
<circle cx="1560.0" cy="1183.7" r="11.6"/>
<circle cx="1584.9" cy="1171.7" r="11.6"/>
<circle cx="1592.8" cy="1197.6" r="11.6"/>
<circle cx="1547.0" cy="1213.5" r="11.6"/>
<circle cx="1501.2" cy="1221.5" r="11.6"/>
<circle cx="1580.9" cy="1227.5" r="11.6"/>
<circle cx="1541.0" cy="1235.5" r="11.6"/>
<circle cx="1523.1" cy="1245.4" r="11.6"/>
<circle cx="1572.9" cy="1258.4" r="11.6"/>
<circle cx="1502.2" cy="1265.3" r="11.6"/>
<circle cx="1500.2" cy="1289.2" r="11.6"/>
<circle cx="1569.9" cy="1292.2" r="11.6"/>
<circle cx="1598.8" cy="1265.3" r="11.6"/>
<circle cx="1505.2" cy="1106.0" r="11.6"/>
<circle cx="1529.1" cy="1106.0" r="11.6"/>
<circle cx="1559.0" cy="1106.0" r="11.6"/>
<circle cx="1588.8" cy="1108.0" r="11.6"/>
<circle cx="1598.8" cy="1153.8" r="11.6"/>
<circle cx="1598.8" cy="1213.5" r="11.6"/>
<circle cx="1827.1" cy="1147.8" r="11.6"/>
<circle cx="1719.5" cy="1108.0" r="11.6"/>
<circle cx="1612.0" cy="1125.9" r="11.6"/>
<circle cx="1677.7" cy="1125.9" r="11.6"/>
<circle cx="1625.9" cy="1143.8" r="11.6"/>
<circle cx="1645.8" cy="1135.9" r="11.6"/>
<circle cx="1697.6" cy="1145.8" r="11.6"/>
<circle cx="1717.5" cy="1165.7" r="11.6"/>
<circle cx="1681.7" cy="1173.7" r="11.6"/>
<circle cx="1703.6" cy="1177.7" r="11.6"/>
<circle cx="1778.3" cy="1151.8" r="11.6"/>
<circle cx="1785.3" cy="1173.7" r="11.6"/>
<circle cx="1847.0" cy="1167.7" r="11.6"/>
<circle cx="1803.2" cy="1215.5" r="11.6"/>
<circle cx="1600.0" cy="1179.7" r="11.6"/>
<circle cx="1645.8" cy="1199.6" r="11.6"/>
<circle cx="1669.7" cy="1193.6" r="11.6"/>
<circle cx="1691.6" cy="1193.6" r="11.6"/>
<circle cx="1699.6" cy="1199.6" r="11.6"/>
<circle cx="1691.6" cy="1211.6" r="11.6"/>
<circle cx="1695.6" cy="1225.5" r="11.6"/>
<circle cx="1711.6" cy="1235.5" r="11.6"/>
<circle cx="1675.7" cy="1237.5" r="11.6"/>
<circle cx="1600.0" cy="1231.5" r="11.6"/>
<circle cx="1635.9" cy="1251.4" r="11.6"/>
<circle cx="1653.8" cy="1247.4" r="11.6"/>
<circle cx="1649.8" cy="1275.3" r="11.6"/>
<circle cx="1724.5" cy="1247.4" r="11.6"/>
<circle cx="1729.5" cy="1267.3" r="11.6"/>
<circle cx="1829.1" cy="1257.4" r="11.6"/>
<circle cx="1840.0" cy="1112.9" r="11.6"/>
<circle cx="1884.5" cy="1141.8" r="11.6"/>
<circle cx="1792.2" cy="1129.9" r="11.6"/>
<circle cx="1817.1" cy="1129.9" r="11.6"/>
<circle cx="1820.1" cy="1151.8" r="11.6"/>
<circle cx="1779.3" cy="1110.0" r="11.6"/>
<circle cx="1761.4" cy="1116.9" r="11.6"/>
<circle cx="1747.4" cy="1138.8" r="11.6"/>
<circle cx="1730.5" cy="1120.9" r="11.6"/>
<circle cx="1705.6" cy="1125.9" r="11.6"/>
<circle cx="1675.7" cy="1106.0" r="11.6"/>
<circle cx="1653.8" cy="1110.0" r="11.6"/>
<circle cx="1624.9" cy="1156.8" r="11.6"/>
<circle cx="1720.5" cy="1145.8" r="11.6"/>
<circle cx="1697.6" cy="1162.7" r="11.6"/>
<circle cx="1740.4" cy="1167.7" r="11.6"/>
<circle cx="1769.3" cy="1166.7" r="11.6"/>
<circle cx="1789.2" cy="1162.7" r="11.6"/>
<circle cx="1813.1" cy="1173.7" r="11.6"/>
<circle cx="1847.0" cy="1177.7" r="11.6"/>
<circle cx="1800.2" cy="1195.6" r="11.6"/>
<circle cx="1818.1" cy="1206.6" r="11.6"/>
<circle cx="1642.8" cy="1179.7" r="11.6"/>
<circle cx="1618.9" cy="1190.6" r="11.6"/>
<circle cx="1672.7" cy="1211.6" r="11.6"/>
<circle cx="1649.8" cy="1218.5" r="11.6"/>
<circle cx="1621.9" cy="1215.5" r="11.6"/>
<circle cx="1614.9" cy="1242.4" r="11.6"/>
<circle cx="1683.7" cy="1253.4" r="11.6"/>
<circle cx="1630.9" cy="1262.4" r="11.6"/>
<circle cx="1608.0" cy="1285.3" r="11.6"/>
<circle cx="1626.9" cy="1292.2" r="11.6"/>
<circle cx="1664.1" cy="1274.9" r="11.6"/>
<circle cx="1705.6" cy="1287.3" r="11.6"/>
<circle cx="1751.4" cy="1244.4" r="11.6"/>
<circle cx="1734.5" cy="1259.4" r="11.6"/>
<circle cx="1769.9" cy="1272.3" r="11.6"/>
<circle cx="1801.2" cy="1288.2" r="11.6"/>
<circle cx="1846.6" cy="1254.4" r="11.6"/>
<circle cx="1846.0" cy="1277.9" r="11.6"/>
<circle cx="1927.9" cy="1107.6" r="11.6"/>
<circle cx="1982.9" cy="1109.2" r="11.6"/>
<circle cx="1947.6" cy="1127.0" r="11.6"/>
<circle cx="1900.0" cy="1182.0" r="11.6"/>
<circle cx="1919.4" cy="1207.8" r="11.6"/>
<circle cx="1952.3" cy="1214.7" r="11.6"/>
<circle cx="2027.8" cy="1212.3" r="11.6"/>
<circle cx="2147.0" cy="1214.7" r="11.6"/>
<circle cx="1388.4" cy="1326.3" r="11.6"/>
<circle cx="1477.4" cy="1312.5" r="11.6"/>
<circle cx="1553.7" cy="1317.0" r="11.6"/>
<circle cx="1675.0" cy="1309.8" r="11.6"/>
<circle cx="1684.3" cy="1319.7" r="11.6"/>
<circle cx="1620.3" cy="1407.6" r="11.6"/>
<circle cx="1695.2" cy="1233.3" r="11.6"/>
<circle cx="1711.1" cy="1246.6" r="11.6"/>
<circle cx="1727.0" cy="1250.5" r="11.6"/>
<circle cx="1703.1" cy="1299.7" r="11.6"/>
<circle cx="1704.4" cy="1310.3" r="11.6"/>
<circle cx="1697.8" cy="1332.9" r="11.6"/>
<circle cx="1725.7" cy="1303.1" r="11.6"/>
<circle cx="1699.7" cy="1346.2" r="11.6"/>
<circle cx="1869.7" cy="1344.8" r="11.6"/>
<circle cx="1901.5" cy="1371.7" r="11.6"/>
<circle cx="1768.7" cy="1420.0" r="11.6"/>
<circle cx="1808.8" cy="1431.2" r="11.6"/>
</g>
</g>
</g>
<g id="plot-b">
<polygon points="343.0 3275.2 995.0 2729.6 986.3 1940.0 303.7 2437.5" fill="#f9f9f9"/>
<polygon points="995.0 2729.6 2040.6 3032.5 2077.4 2216.4 986.3 1940.0" fill="#f2f2f2"/>
<polygon points="343.0 3275.2 1451.5 3635.1 2040.6 3032.5 995.0 2729.6" fill="#f5f5f5"/>
<path d="M343.0 3275.2L995.0 2729.6L2040.6 3032.5M995.0 2729.6L986.3 1940.0" stroke="#fbfbfb" stroke-width="2.5" fill="none" stroke-linejoin="round"/>
<path d="M1082.0 2754.8L1076.9 1963.0M1207.0 2791.0L1207.2 1996.0M1333.5 2827.7L1339.0 2029.4M1461.4 2864.7L1472.5 2063.2M1590.9 2902.2L1607.6 2097.4M1721.8 2940.1L1744.3 2132.0M1854.4 2978.5L1882.7 2167.1M1988.5 3017.4L2022.9 2202.5M400.5 3227.1L364.1 2393.5M478.3 3162.0L445.8 2333.9M554.7 3098.1L525.9 2275.6M629.6 3035.4L604.4 2218.4M703.0 2973.9L681.3 2162.4M775.1 2913.6L756.7 2107.4M845.8 2854.4L830.6 2053.5M915.2 2796.4L903.1 2000.7" stroke="#adadad" stroke-width="2.3" fill="none" stroke-linecap="round"/>
<path d="M434.8 3305.1L1082.0 2754.8M567.0 3348.0L1207.0 2791.0M700.8 3391.4L1333.5 2827.7M836.3 3435.4L1461.4 2864.7M973.6 3479.9L1590.9 2902.2M1112.6 3525.0L1721.8 2940.1M1253.4 3570.7L1854.4 2978.5M1396.0 3617.0L1988.5 3017.4M1503.7 3581.7L400.5 3227.1M1574.3 3509.5L478.3 3162.0M1643.4 3438.8L554.7 3098.1M1711.1 3369.6L629.6 3035.4M1777.5 3301.7L703.0 2973.9M1842.5 3235.1L775.1 2913.6M1906.3 3169.9L845.8 2854.4M1968.9 3105.9L915.2 2796.4M2044.4 2949.8L994.1 2649.5L339.0 3190.5M2048.9 2849.6L993.0 2552.5L334.2 3087.8M2053.4 2748.4L992.0 2454.4L329.3 2984.0M2058.1 2646.1L990.9 2355.4L324.4 2879.0M2062.7 2542.6L989.8 2255.3L319.4 2772.8M2067.4 2438.0L988.7 2154.2L314.4 2665.3M2072.2 2332.3L987.5 2052.0L309.3 2556.7" stroke="#a6a6a6" stroke-width="1.9" fill="none" stroke-linejoin="round" stroke-linecap="round"/>
<path d="M343.0 3275.2L1451.5 3635.1L2040.6 3032.5L2077.4 2216.4" stroke="#151515" stroke-width="2.4" fill="none" stroke-linejoin="miter"/>
<path d="M440.9 3299.9L423.8 3314.4M573.0 3342.7L556.0 3357.5M706.8 3386.1L690.0 3401.0M842.2 3430.0L825.6 3445.1M979.4 3474.4L963.0 3489.8M1118.3 3519.5L1102.1 3535.1M1259.1 3565.1L1243.0 3580.9M1401.6 3611.3L1385.8 3627.4M1496.1 3579.2L1523.7 3588.1M1566.6 3507.1L1594.3 3515.9M1635.7 3436.4L1663.4 3445.1M1703.4 3367.2L1731.2 3375.8M1769.8 3299.3L1797.5 3307.8M1834.9 3232.8L1862.6 3241.2M1898.6 3167.6L1926.4 3175.9M1961.2 3103.6L1989.0 3111.8M2036.7 2947.6L2064.5 2955.6M2041.2 2847.5L2069.1 2855.3M2045.7 2746.3L2073.7 2754.0M2050.3 2644.0L2078.3 2651.6M2055.0 2540.5L2083.0 2548.0M2059.7 2436.0L2087.7 2443.4M2064.5 2330.3L2092.5 2337.5" stroke="#151515" stroke-width="2.3" fill="none"/>
<g font-size="30" text-anchor="middle">
<text x="412.8" y="3372.6">−2.0</text>
<text x="545.0" y="3415.5">−1.5</text>
<text x="678.8" y="3458.9">−1.0</text>
<text x="814.3" y="3502.9">−0.5</text>
<text x="951.6" y="3547.4">0.0</text>
<text x="1090.6" y="3592.5">0.5</text>
<text x="1231.4" y="3638.2">1.0</text>
<text x="1374.0" y="3684.5">1.5</text>
<text x="1542.2" y="3640.2">−2.5</text>
<text x="1612.8" y="3568.0">−2.0</text>
<text x="1681.9" y="3497.3">−1.5</text>
<text x="1749.6" y="3428.1">−1.0</text>
<text x="1816.0" y="3360.2">−0.5</text>
<text x="1881.0" y="3293.6">0.0</text>
<text x="1944.8" y="3228.4">0.5</text>
<text x="2007.4" y="3164.4">1.0</text>
<text x="2101.4" y="2963.8">−0.5</text>
<text x="2105.9" y="2863.6">0.0</text>
<text x="2110.4" y="2762.4">0.5</text>
<text x="2115.1" y="2660.1">1.0</text>
<text x="2119.7" y="2556.6">1.5</text>
<text x="2124.4" y="2452.0">2.0</text>
<text x="2129.2" y="2346.3">2.5</text>
</g>
<g font-size="56" text-anchor="middle">
<text x="833.5" y="3568.5">Zn</text>
<text x="1840.4" y="3419.7">Pb</text>
<text x="2181.7" y="2631.2">Ba</text>
</g>
<g stroke="none">
<circle cx="843.6" cy="2334.2" r="8" fill="#008000" fill-opacity="0.30"/>
<circle cx="799.8" cy="2346.7" r="8" fill="#008000" fill-opacity="0.70"/>
<circle cx="814.7" cy="2360.3" r="8" fill="#008000" fill-opacity="0.70"/>
<circle cx="839.0" cy="2388.6" r="8" fill="#008000" fill-opacity="0.90"/>
<circle cx="802.8" cy="2389.6" r="8" fill="#008000" fill-opacity="1.00"/>
<circle cx="838.6" cy="2396.5" r="8" fill="#008000" fill-opacity="0.80"/>
<circle cx="871.9" cy="2411.5" r="8" fill="#008000" fill-opacity="0.90"/>
<circle cx="870.5" cy="2417.5" r="8" fill="#008000" fill-opacity="0.80"/>
<circle cx="1012.5" cy="2465.7" r="8" fill="#0000ff" fill-opacity="0.50"/>
<circle cx="919.1" cy="2494.6" r="8" fill="#008000" fill-opacity="0.85"/>
<circle cx="950.8" cy="2503.9" r="8" fill="#008000" fill-opacity="0.70"/>
<circle cx="1044.8" cy="2521.1" r="8" fill="#0000ff" fill-opacity="0.55"/>
<circle cx="1028.3" cy="2533.0" r="8" fill="#0000ff" fill-opacity="0.80"/>
<circle cx="1061.2" cy="2556.9" r="8" fill="#0000ff" fill-opacity="0.70"/>
<circle cx="1066.1" cy="2571.5" r="8" fill="#0000ff" fill-opacity="0.70"/>
<circle cx="1102.6" cy="2571.5" r="8" fill="#0000ff" fill-opacity="0.50"/>
<circle cx="1074.7" cy="2572.5" r="8" fill="#0000ff" fill-opacity="0.70"/>
<circle cx="993.4" cy="2585.0" r="8" fill="#008000" fill-opacity="0.90"/>
<circle cx="1088.6" cy="2595.4" r="8" fill="#0000ff" fill-opacity="0.70"/>
<circle cx="1172.1" cy="2609.0" r="8" fill="#0000ff" fill-opacity="0.40"/>
<circle cx="1102.6" cy="2610.3" r="8" fill="#0000ff" fill-opacity="0.70"/>
<circle cx="1047.2" cy="2611.7" r="8" fill="#008000" fill-opacity="0.75"/>
<circle cx="1035.3" cy="2616.3" r="8" fill="#008000" fill-opacity="0.80"/>
<circle cx="1118.9" cy="2627.3" r="8" fill="#0000ff" fill-opacity="0.80"/>
<circle cx="1129.9" cy="2634.2" r="8" fill="#0000ff" fill-opacity="0.70"/>
<circle cx="1118.9" cy="2637.2" r="8" fill="#0000ff" fill-opacity="0.90"/>
<circle cx="1062.7" cy="2627.3" r="8" fill="#008000" fill-opacity="0.80"/>
<circle cx="1154.2" cy="2638.8" r="8" fill="#0000ff" fill-opacity="0.60"/>
<circle cx="1040.2" cy="2629.2" r="8" fill="#008000" fill-opacity="0.85"/>
<circle cx="1026.3" cy="2636.2" r="8" fill="#008000" fill-opacity="0.95"/>
<circle cx="1061.2" cy="2636.2" r="8" fill="#008000" fill-opacity="0.90"/>
<circle cx="1166.7" cy="2646.2" r="8" fill="#0000ff" fill-opacity="0.55"/>
<circle cx="1064.5" cy="2636.9" r="8" fill="#008000" fill-opacity="0.80"/>
<circle cx="1083.1" cy="2638.2" r="8" fill="#008000" fill-opacity="0.80"/>
<circle cx="1134.9" cy="2649.8" r="8" fill="#0000ff" fill-opacity="0.75"/>
<circle cx="1073.5" cy="2642.8" r="8" fill="#008000" fill-opacity="0.80"/>
<circle cx="1039.6" cy="2647.8" r="8" fill="#008000" fill-opacity="0.95"/>
<circle cx="1053.6" cy="2648.8" r="8" fill="#008000" fill-opacity="0.90"/>
<circle cx="1144.4" cy="2664.3" r="8" fill="#0000ff" fill-opacity="0.80"/>
<circle cx="1098.4" cy="2655.4" r="8" fill="#008000" fill-opacity="0.60"/>
<circle cx="1059.6" cy="2657.8" r="8" fill="#008000" fill-opacity="0.95"/>
<circle cx="1063.5" cy="2664.7" r="8" fill="#008000" fill-opacity="0.95"/>
<circle cx="1089.4" cy="2665.7" r="8" fill="#008000" fill-opacity="0.80"/>
<circle cx="1042.6" cy="2667.7" r="8" fill="#008000" fill-opacity="1.00"/>
<circle cx="1080.5" cy="2670.7" r="8" fill="#008000" fill-opacity="0.90"/>
<circle cx="1095.4" cy="2671.8" r="8" fill="#008000" fill-opacity="0.90"/>
<circle cx="1087.6" cy="2672.6" r="8" fill="#008000" fill-opacity="0.90"/>
<circle cx="1083.4" cy="2672.8" r="8" fill="#008000" fill-opacity="0.90"/>
<circle cx="1099.2" cy="2672.9" r="8" fill="#008000" fill-opacity="0.90"/>
<circle cx="1109.4" cy="2675.7" r="8" fill="#008000" fill-opacity="0.80"/>
<circle cx="1101.6" cy="2677.5" r="8" fill="#008000" fill-opacity="0.90"/>
<circle cx="1228.5" cy="2687.6" r="8" fill="#0000ff" fill-opacity="0.50"/>
<circle cx="1087.5" cy="2677.7" r="8" fill="#008000" fill-opacity="0.90"/>
<circle cx="1092.4" cy="2678.1" r="8" fill="#008000" fill-opacity="0.90"/>
<circle cx="1085.8" cy="2678.2" r="8" fill="#008000" fill-opacity="0.90"/>
<circle cx="1078.8" cy="2679.5" r="8" fill="#008000" fill-opacity="0.90"/>
<circle cx="1107.7" cy="2680.1" r="8" fill="#008000" fill-opacity="0.90"/>
<circle cx="1082.0" cy="2681.6" r="8" fill="#008000" fill-opacity="0.90"/>
<circle cx="1144.2" cy="2691.6" r="8" fill="#0000ff" fill-opacity="1.00"/>
<circle cx="1112.4" cy="2681.7" r="8" fill="#008000" fill-opacity="0.80"/>
<circle cx="1117.6" cy="2682.2" r="8" fill="#008000" fill-opacity="0.90"/>
<circle cx="1075.5" cy="2683.0" r="8" fill="#008000" fill-opacity="0.90"/>
<circle cx="1112.7" cy="2683.3" r="8" fill="#008000" fill-opacity="0.90"/>
<circle cx="1169.1" cy="2693.6" r="8" fill="#0000ff" fill-opacity="0.80"/>
<circle cx="1068.5" cy="2683.7" r="8" fill="#008000" fill-opacity="1.00"/>
<circle cx="1106.0" cy="2684.1" r="8" fill="#008000" fill-opacity="0.90"/>
<circle cx="1071.6" cy="2684.7" r="8" fill="#008000" fill-opacity="0.90"/>
<circle cx="1120.8" cy="2686.5" r="8" fill="#008000" fill-opacity="0.90"/>
<circle cx="1074.6" cy="2688.0" r="8" fill="#008000" fill-opacity="0.90"/>
<circle cx="1146.2" cy="2698.6" r="8" fill="#0000ff" fill-opacity="1.00"/>
<circle cx="1110.0" cy="2688.6" r="8" fill="#008000" fill-opacity="0.90"/>
<circle cx="1083.7" cy="2689.9" r="8" fill="#008000" fill-opacity="0.90"/>
<circle cx="1117.0" cy="2690.1" r="8" fill="#008000" fill-opacity="0.90"/>
<circle cx="1078.6" cy="2690.2" r="8" fill="#008000" fill-opacity="0.90"/>
<circle cx="1181.1" cy="2701.6" r="8" fill="#0000ff" fill-opacity="0.70"/>
<circle cx="1077.1" cy="2692.0" r="8" fill="#008000" fill-opacity="0.90"/>
<circle cx="1072.4" cy="2692.5" r="8" fill="#008000" fill-opacity="0.90"/>
<circle cx="1123.2" cy="2693.1" r="8" fill="#008000" fill-opacity="0.90"/>
<circle cx="1073.5" cy="2693.6" r="8" fill="#008000" fill-opacity="1.00"/>
<circle cx="1101.4" cy="2693.6" r="8" fill="#008000" fill-opacity="0.80"/>
<circle cx="1115.3" cy="2693.6" r="8" fill="#008000" fill-opacity="0.80"/>
<circle cx="1107.4" cy="2693.9" r="8" fill="#008000" fill-opacity="0.90"/>
<circle cx="1119.0" cy="2694.4" r="8" fill="#008000" fill-opacity="0.90"/>
<circle cx="1082.8" cy="2694.7" r="8" fill="#008000" fill-opacity="0.90"/>
<circle cx="1087.2" cy="2694.7" r="8" fill="#008000" fill-opacity="0.90"/>
<circle cx="1113.8" cy="2694.9" r="8" fill="#008000" fill-opacity="0.90"/>
<circle cx="1129.8" cy="2695.1" r="8" fill="#008000" fill-opacity="0.90"/>
<circle cx="1101.7" cy="2695.5" r="8" fill="#008000" fill-opacity="0.90"/>
<circle cx="1103.4" cy="2697.5" r="8" fill="#008000" fill-opacity="0.90"/>
<circle cx="1191.0" cy="2707.6" r="8" fill="#0000ff" fill-opacity="0.80"/>
<circle cx="1125.3" cy="2697.6" r="8" fill="#008000" fill-opacity="0.80"/>
<circle cx="1116.7" cy="2698.6" r="8" fill="#008000" fill-opacity="0.90"/>
<circle cx="1086.1" cy="2698.7" r="8" fill="#008000" fill-opacity="0.90"/>
<circle cx="1168.0" cy="2708.7" r="8" fill="#0000ff" fill-opacity="0.90"/>
<circle cx="1108.1" cy="2698.9" r="8" fill="#008000" fill-opacity="0.90"/>
<circle cx="1096.6" cy="2699.0" r="8" fill="#008000" fill-opacity="0.90"/>
<circle cx="1080.9" cy="2699.0" r="8" fill="#008000" fill-opacity="0.90"/>
<circle cx="1131.7" cy="2699.5" r="8" fill="#008000" fill-opacity="0.90"/>
<circle cx="1133.3" cy="2699.6" r="8" fill="#008000" fill-opacity="0.80"/>
<circle cx="1126.1" cy="2700.4" r="8" fill="#008000" fill-opacity="0.90"/>
<circle cx="1119.8" cy="2700.6" r="8" fill="#008000" fill-opacity="0.90"/>
<circle cx="1091.4" cy="2700.7" r="8" fill="#008000" fill-opacity="0.90"/>
<circle cx="1077.5" cy="2701.6" r="8" fill="#008000" fill-opacity="1.00"/>
<circle cx="1101.4" cy="2702.3" r="8" fill="#008000" fill-opacity="0.90"/>
<circle cx="1087.3" cy="2702.6" r="8" fill="#008000" fill-opacity="0.90"/>
<circle cx="1124.7" cy="2703.2" r="8" fill="#008000" fill-opacity="0.90"/>
<circle cx="1137.4" cy="2703.3" r="8" fill="#008000" fill-opacity="0.90"/>
<circle cx="1114.2" cy="2703.3" r="8" fill="#008000" fill-opacity="0.90"/>
<circle cx="1172.4" cy="2713.3" r="8" fill="#0000ff" fill-opacity="0.90"/>
<circle cx="1118.3" cy="2703.4" r="8" fill="#008000" fill-opacity="0.90"/>
<circle cx="1094.7" cy="2703.5" r="8" fill="#008000" fill-opacity="0.90"/>
<circle cx="1166.1" cy="2713.5" r="8" fill="#0000ff" fill-opacity="1.00"/>
<circle cx="1107.2" cy="2703.6" r="8" fill="#008000" fill-opacity="0.90"/>
<circle cx="1131.2" cy="2703.7" r="8" fill="#008000" fill-opacity="0.90"/>
<circle cx="1203.8" cy="2715.9" r="8" fill="#0000ff" fill-opacity="0.90"/>
<circle cx="1173.8" cy="2716.1" r="8" fill="#0000ff" fill-opacity="0.90"/>
<circle cx="1167.8" cy="2716.8" r="8" fill="#0000ff" fill-opacity="0.90"/>
<circle cx="1197.0" cy="2717.5" r="8" fill="#0000ff" fill-opacity="0.90"/>
<circle cx="1209.0" cy="2717.5" r="8" fill="#0000ff" fill-opacity="0.90"/>
<circle cx="1087.5" cy="2707.6" r="8" fill="#008000" fill-opacity="1.00"/>
<circle cx="1215.7" cy="2717.9" r="8" fill="#0000ff" fill-opacity="0.90"/>
<circle cx="1096.5" cy="2708.0" r="8" fill="#008000" fill-opacity="0.90"/>
<circle cx="1093.2" cy="2708.2" r="8" fill="#008000" fill-opacity="0.90"/>
<circle cx="1109.8" cy="2708.3" r="8" fill="#008000" fill-opacity="0.90"/>
<circle cx="1041.6" cy="2698.4" r="8" fill="#ff0000" fill-opacity="0.90"/>
<circle cx="1141.3" cy="2708.8" r="8" fill="#008000" fill-opacity="0.90"/>
<circle cx="1220.9" cy="2719.5" r="8" fill="#0000ff" fill-opacity="0.80"/>
<circle cx="1165.0" cy="2719.7" r="8" fill="#0000ff" fill-opacity="0.90"/>
<circle cx="1116.8" cy="2710.0" r="8" fill="#008000" fill-opacity="0.90"/>
<circle cx="1102.1" cy="2710.0" r="8" fill="#008000" fill-opacity="0.90"/>
<circle cx="1169.1" cy="2721.5" r="8" fill="#0000ff" fill-opacity="1.00"/>
<circle cx="1165.7" cy="2722.5" r="8" fill="#0000ff" fill-opacity="0.90"/>
<circle cx="1113.9" cy="2712.6" r="8" fill="#008000" fill-opacity="0.90"/>
<circle cx="1136.2" cy="2713.1" r="8" fill="#008000" fill-opacity="0.90"/>
<circle cx="1181.1" cy="2723.5" r="8" fill="#0000ff" fill-opacity="1.00"/>
<circle cx="1151.2" cy="2713.5" r="8" fill="#008000" fill-opacity="0.90"/>
<circle cx="1142.7" cy="2713.6" r="8" fill="#008000" fill-opacity="0.90"/>
<circle cx="1171.0" cy="2724.5" r="8" fill="#0000ff" fill-opacity="0.90"/>
<circle cx="1095.3" cy="2714.5" r="8" fill="#008000" fill-opacity="0.90"/>
<circle cx="1101.4" cy="2715.5" r="8" fill="#008000" fill-opacity="1.00"/>
<circle cx="1137.3" cy="2715.5" r="8" fill="#008000" fill-opacity="0.90"/>
<circle cx="1147.0" cy="2716.0" r="8" fill="#008000" fill-opacity="0.90"/>
<circle cx="1108.0" cy="2716.3" r="8" fill="#008000" fill-opacity="0.90"/>
<circle cx="1102.4" cy="2716.3" r="8" fill="#008000" fill-opacity="0.90"/>
<circle cx="1117.0" cy="2716.4" r="8" fill="#008000" fill-opacity="0.90"/>
<circle cx="1226.9" cy="2727.5" r="8" fill="#0000ff" fill-opacity="0.80"/>
<circle cx="1108.3" cy="2718.4" r="8" fill="#008000" fill-opacity="0.90"/>
<circle cx="1199.4" cy="2728.9" r="8" fill="#0000ff" fill-opacity="0.90"/>
<circle cx="1193.5" cy="2729.2" r="8" fill="#0000ff" fill-opacity="0.90"/>
<circle cx="1147.3" cy="2719.3" r="8" fill="#008000" fill-opacity="0.90"/>
<circle cx="1174.0" cy="2729.5" r="8" fill="#0000ff" fill-opacity="0.90"/>
<circle cx="1113.3" cy="2719.5" r="8" fill="#008000" fill-opacity="1.00"/>
<circle cx="1138.0" cy="2719.6" r="8" fill="#008000" fill-opacity="0.90"/>
<circle cx="1114.8" cy="2720.9" r="8" fill="#008000" fill-opacity="0.90"/>
<circle cx="1103.6" cy="2721.0" r="8" fill="#008000" fill-opacity="0.90"/>
<circle cx="1182.8" cy="2732.1" r="8" fill="#0000ff" fill-opacity="0.90"/>
<circle cx="1195.7" cy="2732.2" r="8" fill="#0000ff" fill-opacity="0.90"/>
<circle cx="1179.0" cy="2732.5" r="8" fill="#0000ff" fill-opacity="0.90"/>
<circle cx="1148.6" cy="2722.9" r="8" fill="#008000" fill-opacity="0.90"/>
<circle cx="1111.3" cy="2723.0" r="8" fill="#008000" fill-opacity="0.90"/>
<circle cx="1119.5" cy="2723.5" r="8" fill="#008000" fill-opacity="0.90"/>
<circle cx="1128.6" cy="2723.5" r="8" fill="#008000" fill-opacity="0.90"/>
<circle cx="1143.4" cy="2723.9" r="8" fill="#008000" fill-opacity="0.90"/>
<circle cx="1189.3" cy="2734.7" r="8" fill="#0000ff" fill-opacity="0.90"/>
<circle cx="1129.5" cy="2725.0" r="8" fill="#008000" fill-opacity="0.90"/>
<circle cx="1137.1" cy="2725.3" r="8" fill="#008000" fill-opacity="0.90"/>
<circle cx="1240.8" cy="2735.5" r="8" fill="#0000ff" fill-opacity="0.60"/>
<circle cx="1199.0" cy="2735.5" r="8" fill="#0000ff" fill-opacity="1.00"/>
<circle cx="1144.5" cy="2725.5" r="8" fill="#008000" fill-opacity="0.90"/>
<circle cx="1136.6" cy="2726.2" r="8" fill="#008000" fill-opacity="0.90"/>
<circle cx="1187.1" cy="2737.5" r="8" fill="#0000ff" fill-opacity="1.00"/>
<circle cx="1250.6" cy="2737.5" r="8" fill="#0000ff" fill-opacity="0.60"/>
<circle cx="1141.2" cy="2727.5" r="8" fill="#008000" fill-opacity="1.00"/>
<circle cx="1153.2" cy="2727.5" r="8" fill="#008000" fill-opacity="1.00"/>
<circle cx="1197.4" cy="2737.5" r="8" fill="#0000ff" fill-opacity="0.90"/>
<circle cx="1191.5" cy="2737.9" r="8" fill="#0000ff" fill-opacity="0.90"/>
<circle cx="1188.9" cy="2738.9" r="8" fill="#0000ff" fill-opacity="0.90"/>
<circle cx="1117.3" cy="2729.3" r="8" fill="#008000" fill-opacity="0.90"/>
<circle cx="1123.3" cy="2729.5" r="8" fill="#008000" fill-opacity="1.00"/>
<circle cx="1179.5" cy="2739.6" r="8" fill="#0000ff" fill-opacity="0.90"/>
<circle cx="1122.3" cy="2729.7" r="8" fill="#008000" fill-opacity="0.90"/>
<circle cx="1131.8" cy="2729.7" r="8" fill="#008000" fill-opacity="0.90"/>
<circle cx="1134.6" cy="2730.5" r="8" fill="#008000" fill-opacity="0.90"/>
<circle cx="1222.7" cy="2740.8" r="8" fill="#0000ff" fill-opacity="0.80"/>
<circle cx="1146.8" cy="2731.4" r="8" fill="#008000" fill-opacity="0.90"/>
<circle cx="1129.1" cy="2731.4" r="8" fill="#008000" fill-opacity="0.90"/>
<circle cx="1139.7" cy="2731.4" r="8" fill="#008000" fill-opacity="0.90"/>
<circle cx="1112.4" cy="2731.5" r="8" fill="#008000" fill-opacity="1.00"/>
<circle cx="1138.6" cy="2731.7" r="8" fill="#008000" fill-opacity="0.90"/>
<circle cx="1185.2" cy="2742.0" r="8" fill="#0000ff" fill-opacity="0.90"/>
<circle cx="1197.6" cy="2742.3" r="8" fill="#0000ff" fill-opacity="0.90"/>
<circle cx="1209.0" cy="2743.4" r="8" fill="#0000ff" fill-opacity="0.90"/>
<circle cx="1148.9" cy="2733.7" r="8" fill="#008000" fill-opacity="0.90"/>
<circle cx="1128.5" cy="2733.7" r="8" fill="#008000" fill-opacity="0.90"/>
<circle cx="1123.4" cy="2733.8" r="8" fill="#008000" fill-opacity="0.90"/>
<circle cx="1278.5" cy="2743.8" r="8" fill="#0000ff" fill-opacity="0.70"/>
<circle cx="1188.4" cy="2744.5" r="8" fill="#0000ff" fill-opacity="0.90"/>
<circle cx="1134.9" cy="2734.6" r="8" fill="#008000" fill-opacity="0.90"/>
<circle cx="1201.6" cy="2744.9" r="8" fill="#0000ff" fill-opacity="0.90"/>
<circle cx="1207.0" cy="2745.4" r="8" fill="#0000ff" fill-opacity="0.90"/>
<circle cx="1136.2" cy="2735.7" r="8" fill="#008000" fill-opacity="0.90"/>
<circle cx="1131.5" cy="2736.0" r="8" fill="#008000" fill-opacity="0.90"/>
<circle cx="1140.6" cy="2736.6" r="8" fill="#008000" fill-opacity="0.90"/>
<circle cx="1197.0" cy="2747.4" r="8" fill="#0000ff" fill-opacity="1.00"/>
<circle cx="1192.1" cy="2747.9" r="8" fill="#0000ff" fill-opacity="0.90"/>
<circle cx="1144.9" cy="2738.4" r="8" fill="#008000" fill-opacity="0.90"/>
<circle cx="1123.0" cy="2739.2" r="8" fill="#008000" fill-opacity="0.90"/>
<circle cx="1204.8" cy="2749.4" r="8" fill="#0000ff" fill-opacity="0.90"/>
<circle cx="1149.6" cy="2739.4" r="8" fill="#008000" fill-opacity="0.90"/>
<circle cx="1161.2" cy="2739.4" r="8" fill="#008000" fill-opacity="1.00"/>
<circle cx="1187.3" cy="2749.5" r="8" fill="#0000ff" fill-opacity="0.90"/>
<circle cx="1233.7" cy="2749.8" r="8" fill="#0000ff" fill-opacity="0.90"/>
<circle cx="1198.1" cy="2749.9" r="8" fill="#0000ff" fill-opacity="0.90"/>
<circle cx="1134.4" cy="2740.3" r="8" fill="#008000" fill-opacity="0.90"/>
<circle cx="1138.4" cy="2740.4" r="8" fill="#008000" fill-opacity="0.90"/>
<circle cx="1126.9" cy="2740.5" r="8" fill="#008000" fill-opacity="0.90"/>
<circle cx="1156.5" cy="2741.1" r="8" fill="#008000" fill-opacity="0.90"/>
<circle cx="1134.8" cy="2741.3" r="8" fill="#008000" fill-opacity="0.90"/>
<circle cx="1228.9" cy="2751.4" r="8" fill="#0000ff" fill-opacity="0.90"/>
<circle cx="1128.9" cy="2741.5" r="8" fill="#008000" fill-opacity="0.90"/>
<circle cx="1203.1" cy="2752.4" r="8" fill="#0000ff" fill-opacity="0.90"/>
<circle cx="1195.3" cy="2752.9" r="8" fill="#0000ff" fill-opacity="0.90"/>
<circle cx="1190.3" cy="2753.0" r="8" fill="#0000ff" fill-opacity="0.90"/>
<circle cx="1209.2" cy="2753.1" r="8" fill="#0000ff" fill-opacity="0.90"/>
<circle cx="1149.2" cy="2743.4" r="8" fill="#008000" fill-opacity="1.00"/>
<circle cx="1171.1" cy="2743.4" r="8" fill="#008000" fill-opacity="1.00"/>
<circle cx="1159.0" cy="2743.6" r="8" fill="#008000" fill-opacity="0.90"/>
<circle cx="1129.2" cy="2744.9" r="8" fill="#008000" fill-opacity="0.90"/>
<circle cx="1137.3" cy="2745.4" r="8" fill="#008000" fill-opacity="1.00"/>
<circle cx="1153.9" cy="2745.7" r="8" fill="#008000" fill-opacity="0.90"/>
<circle cx="1150.4" cy="2746.1" r="8" fill="#008000" fill-opacity="0.90"/>
<circle cx="1138.1" cy="2746.7" r="8" fill="#008000" fill-opacity="0.90"/>
<circle cx="1141.1" cy="2746.8" r="8" fill="#008000" fill-opacity="0.90"/>
<circle cx="1205.0" cy="2757.4" r="8" fill="#0000ff" fill-opacity="1.00"/>
<circle cx="1204.2" cy="2757.8" r="8" fill="#0000ff" fill-opacity="0.90"/>
<circle cx="1212.3" cy="2759.2" r="8" fill="#0000ff" fill-opacity="0.90"/>
<circle cx="1216.9" cy="2759.4" r="8" fill="#0000ff" fill-opacity="1.00"/>
<circle cx="1125.3" cy="2749.4" r="8" fill="#008000" fill-opacity="1.00"/>
<circle cx="1156.5" cy="2749.8" r="8" fill="#008000" fill-opacity="0.90"/>
<circle cx="1200.6" cy="2759.9" r="8" fill="#0000ff" fill-opacity="0.90"/>
<circle cx="1193.8" cy="2760.4" r="8" fill="#0000ff" fill-opacity="0.90"/>
<circle cx="1164.6" cy="2750.7" r="8" fill="#008000" fill-opacity="0.90"/>
<circle cx="1138.8" cy="2750.8" r="8" fill="#008000" fill-opacity="0.90"/>
<circle cx="1134.4" cy="2750.9" r="8" fill="#008000" fill-opacity="0.90"/>
<circle cx="1149.9" cy="2750.9" r="8" fill="#008000" fill-opacity="0.90"/>
<circle cx="1145.7" cy="2751.8" r="8" fill="#008000" fill-opacity="0.90"/>
<circle cx="1234.9" cy="2763.3" r="8" fill="#0000ff" fill-opacity="0.90"/>
<circle cx="1179.1" cy="2753.4" r="8" fill="#008000" fill-opacity="1.00"/>
<circle cx="1207.3" cy="2764.1" r="8" fill="#0000ff" fill-opacity="0.90"/>
<circle cx="1203.5" cy="2764.1" r="8" fill="#0000ff" fill-opacity="0.90"/>
<circle cx="1268.5" cy="2764.7" r="8" fill="#0000ff" fill-opacity="0.80"/>
<circle cx="1281.5" cy="2764.7" r="8" fill="#0000ff" fill-opacity="0.60"/>
<circle cx="1289.4" cy="2764.7" r="8" fill="#0000ff" fill-opacity="0.60"/>
<circle cx="1230.6" cy="2764.8" r="8" fill="#0000ff" fill-opacity="0.90"/>
<circle cx="1171.3" cy="2755.2" r="8" fill="#008000" fill-opacity="0.90"/>
<circle cx="1166.6" cy="2755.3" r="8" fill="#008000" fill-opacity="0.90"/>
<circle cx="1167.1" cy="2755.4" r="8" fill="#008000" fill-opacity="1.00"/>
<circle cx="1159.1" cy="2755.6" r="8" fill="#008000" fill-opacity="0.90"/>
<circle cx="1148.1" cy="2755.8" r="8" fill="#008000" fill-opacity="0.90"/>
<circle cx="1227.6" cy="2766.1" r="8" fill="#0000ff" fill-opacity="0.90"/>
<circle cx="1221.6" cy="2766.4" r="8" fill="#0000ff" fill-opacity="0.90"/>
<circle cx="1214.1" cy="2766.7" r="8" fill="#0000ff" fill-opacity="0.90"/>
<circle cx="1156.4" cy="2757.2" r="8" fill="#008000" fill-opacity="0.90"/>
<circle cx="1141.4" cy="2757.7" r="8" fill="#008000" fill-opacity="0.90"/>
<circle cx="1138.0" cy="2757.8" r="8" fill="#008000" fill-opacity="0.90"/>
<circle cx="1210.0" cy="2768.2" r="8" fill="#0000ff" fill-opacity="0.90"/>
<circle cx="1233.8" cy="2768.8" r="8" fill="#0000ff" fill-opacity="0.90"/>
<circle cx="1153.2" cy="2759.4" r="8" fill="#008000" fill-opacity="1.00"/>
<circle cx="1221.6" cy="2769.5" r="8" fill="#0000ff" fill-opacity="0.90"/>
<circle cx="1174.6" cy="2759.6" r="8" fill="#008000" fill-opacity="0.90"/>
<circle cx="1218.8" cy="2769.7" r="8" fill="#0000ff" fill-opacity="0.90"/>
<circle cx="1163.3" cy="2760.4" r="8" fill="#008000" fill-opacity="0.90"/>
<circle cx="1229.1" cy="2770.9" r="8" fill="#0000ff" fill-opacity="0.90"/>
<circle cx="1218.9" cy="2771.3" r="8" fill="#0000ff" fill-opacity="1.00"/>
<circle cx="1146.0" cy="2762.3" r="8" fill="#008000" fill-opacity="0.90"/>
<circle cx="1149.8" cy="2762.5" r="8" fill="#008000" fill-opacity="0.90"/>
<circle cx="1155.8" cy="2762.5" r="8" fill="#008000" fill-opacity="0.90"/>
<circle cx="1169.7" cy="2762.8" r="8" fill="#008000" fill-opacity="0.90"/>
<circle cx="1267.5" cy="2773.7" r="8" fill="#0000ff" fill-opacity="0.90"/>
<circle cx="1212.7" cy="2774.6" r="8" fill="#0000ff" fill-opacity="0.90"/>
<circle cx="1158.7" cy="2764.8" r="8" fill="#008000" fill-opacity="0.90"/>
<circle cx="1171.5" cy="2764.9" r="8" fill="#008000" fill-opacity="0.90"/>
<circle cx="1234.2" cy="2775.1" r="8" fill="#0000ff" fill-opacity="0.90"/>
<circle cx="1238.8" cy="2775.3" r="8" fill="#0000ff" fill-opacity="1.00"/>
<circle cx="1141.2" cy="2765.3" r="8" fill="#008000" fill-opacity="1.00"/>
<circle cx="1220.0" cy="2775.4" r="8" fill="#0000ff" fill-opacity="0.90"/>
<circle cx="1154.1" cy="2765.7" r="8" fill="#008000" fill-opacity="0.90"/>
<circle cx="1226.6" cy="2776.6" r="8" fill="#0000ff" fill-opacity="0.90"/>
<circle cx="1289.4" cy="2776.7" r="8" fill="#0000ff" fill-opacity="0.60"/>
<circle cx="1247.6" cy="2776.7" r="8" fill="#0000ff" fill-opacity="1.00"/>
<circle cx="1149.3" cy="2766.8" r="8" fill="#008000" fill-opacity="0.90"/>
<circle cx="1164.8" cy="2767.2" r="8" fill="#008000" fill-opacity="0.90"/>
<circle cx="1187.1" cy="2767.3" r="8" fill="#008000" fill-opacity="1.00"/>
<circle cx="1176.8" cy="2767.7" r="8" fill="#008000" fill-opacity="0.90"/>
<circle cx="1101.4" cy="2757.8" r="8" fill="#ff0000" fill-opacity="0.90"/>
<circle cx="1216.3" cy="2778.5" r="8" fill="#0000ff" fill-opacity="0.90"/>
<circle cx="1228.9" cy="2779.3" r="8" fill="#0000ff" fill-opacity="1.00"/>
<circle cx="1175.1" cy="2769.3" r="8" fill="#008000" fill-opacity="1.00"/>
<circle cx="1236.6" cy="2779.5" r="8" fill="#0000ff" fill-opacity="0.90"/>
<circle cx="1171.4" cy="2770.1" r="8" fill="#008000" fill-opacity="0.90"/>
<circle cx="1163.0" cy="2770.8" r="8" fill="#008000" fill-opacity="0.90"/>
<circle cx="1225.1" cy="2781.7" r="8" fill="#0000ff" fill-opacity="0.90"/>
<circle cx="1228.6" cy="2781.9" r="8" fill="#0000ff" fill-opacity="0.90"/>
<circle cx="1189.1" cy="2772.0" r="8" fill="#008000" fill-opacity="0.90"/>
<circle cx="1176.4" cy="2772.1" r="8" fill="#008000" fill-opacity="0.90"/>
<circle cx="1152.5" cy="2772.1" r="8" fill="#008000" fill-opacity="0.90"/>
<circle cx="1241.8" cy="2782.2" r="8" fill="#0000ff" fill-opacity="0.90"/>
<circle cx="1179.7" cy="2772.8" r="8" fill="#008000" fill-opacity="0.90"/>
<circle cx="1158.4" cy="2773.0" r="8" fill="#008000" fill-opacity="0.90"/>
<circle cx="1161.2" cy="2773.3" r="8" fill="#008000" fill-opacity="1.00"/>
<circle cx="1298.4" cy="2783.7" r="8" fill="#0000ff" fill-opacity="0.60"/>
<circle cx="1237.5" cy="2783.8" r="8" fill="#0000ff" fill-opacity="0.90"/>
<circle cx="1243.6" cy="2784.4" r="8" fill="#0000ff" fill-opacity="0.90"/>
<circle cx="1149.2" cy="2775.3" r="8" fill="#008000" fill-opacity="1.00"/>
<circle cx="1199.0" cy="2775.3" r="8" fill="#008000" fill-opacity="1.00"/>
<circle cx="1167.4" cy="2775.5" r="8" fill="#008000" fill-opacity="0.90"/>
<circle cx="1231.8" cy="2785.5" r="8" fill="#0000ff" fill-opacity="0.90"/>
<circle cx="1265.5" cy="2785.7" r="8" fill="#0000ff" fill-opacity="0.90"/>
<circle cx="1155.4" cy="2775.7" r="8" fill="#008000" fill-opacity="0.90"/>
<circle cx="1158.8" cy="2775.7" r="8" fill="#008000" fill-opacity="0.90"/>
<circle cx="1224.8" cy="2785.8" r="8" fill="#0000ff" fill-opacity="0.90"/>
<circle cx="1178.5" cy="2776.2" r="8" fill="#008000" fill-opacity="0.90"/>
<circle cx="1191.6" cy="2777.1" r="8" fill="#008000" fill-opacity="0.90"/>
<circle cx="1184.4" cy="2777.4" r="8" fill="#008000" fill-opacity="0.90"/>
<circle cx="1279.5" cy="2787.6" r="8" fill="#0000ff" fill-opacity="1.00"/>
<circle cx="1173.4" cy="2778.6" r="8" fill="#008000" fill-opacity="0.90"/>
<circle cx="1230.4" cy="2788.9" r="8" fill="#0000ff" fill-opacity="0.90"/>
<circle cx="1225.1" cy="2789.2" r="8" fill="#0000ff" fill-opacity="0.90"/>
<circle cx="1253.5" cy="2789.7" r="8" fill="#0000ff" fill-opacity="0.90"/>
<circle cx="1193.4" cy="2780.0" r="8" fill="#008000" fill-opacity="0.90"/>
<circle cx="1171.3" cy="2780.4" r="8" fill="#008000" fill-opacity="0.90"/>
<circle cx="1240.4" cy="2790.9" r="8" fill="#0000ff" fill-opacity="0.90"/>
<circle cx="1236.9" cy="2791.2" r="8" fill="#0000ff" fill-opacity="1.00"/>
<circle cx="1249.2" cy="2791.3" r="8" fill="#0000ff" fill-opacity="0.90"/>
<circle cx="1197.5" cy="2781.8" r="8" fill="#008000" fill-opacity="0.90"/>
<circle cx="1176.8" cy="2781.9" r="8" fill="#008000" fill-opacity="0.90"/>
<circle cx="1236.2" cy="2791.9" r="8" fill="#0000ff" fill-opacity="0.90"/>
<circle cx="1162.1" cy="2782.0" r="8" fill="#008000" fill-opacity="0.90"/>
<circle cx="1183.0" cy="2782.7" r="8" fill="#008000" fill-opacity="0.90"/>
<circle cx="1179.1" cy="2783.3" r="8" fill="#008000" fill-opacity="1.00"/>
<circle cx="1193.0" cy="2783.3" r="8" fill="#008000" fill-opacity="1.00"/>
<circle cx="1186.4" cy="2783.5" r="8" fill="#008000" fill-opacity="0.90"/>
<circle cx="1237.7" cy="2794.6" r="8" fill="#0000ff" fill-opacity="0.90"/>
<circle cx="1245.6" cy="2795.2" r="8" fill="#0000ff" fill-opacity="0.90"/>
<circle cx="1191.4" cy="2785.3" r="8" fill="#008000" fill-opacity="0.90"/>
<circle cx="1249.8" cy="2796.1" r="8" fill="#0000ff" fill-opacity="0.90"/>
<circle cx="1233.7" cy="2796.9" r="8" fill="#0000ff" fill-opacity="0.90"/>
<circle cx="1197.4" cy="2786.9" r="8" fill="#008000" fill-opacity="0.90"/>
<circle cx="1244.8" cy="2797.2" r="8" fill="#0000ff" fill-opacity="1.00"/>
<circle cx="1255.8" cy="2797.2" r="8" fill="#0000ff" fill-opacity="0.90"/>
<circle cx="1165.1" cy="2787.3" r="8" fill="#008000" fill-opacity="1.00"/>
<circle cx="1207.0" cy="2787.3" r="8" fill="#008000" fill-opacity="1.00"/>
<circle cx="1186.3" cy="2787.3" r="8" fill="#008000" fill-opacity="0.90"/>
<circle cx="1273.5" cy="2797.6" r="8" fill="#0000ff" fill-opacity="0.90"/>
<circle cx="1203.5" cy="2787.6" r="8" fill="#008000" fill-opacity="0.90"/>
<circle cx="1174.0" cy="2788.3" r="8" fill="#008000" fill-opacity="0.90"/>
<circle cx="1126.9" cy="2778.7" r="8" fill="#ff0000" fill-opacity="0.85"/>
<circle cx="1179.0" cy="2788.7" r="8" fill="#008000" fill-opacity="0.90"/>
<circle cx="1166.0" cy="2788.9" r="8" fill="#008000" fill-opacity="0.90"/>
<circle cx="1252.4" cy="2799.5" r="8" fill="#0000ff" fill-opacity="0.90"/>
<circle cx="1233.8" cy="2799.8" r="8" fill="#0000ff" fill-opacity="0.90"/>
<circle cx="1259.5" cy="2800.1" r="8" fill="#0000ff" fill-opacity="0.90"/>
<circle cx="1201.4" cy="2790.8" r="8" fill="#008000" fill-opacity="0.90"/>
<circle cx="1212.9" cy="2791.1" r="8" fill="#008000" fill-opacity="0.90"/>
<circle cx="1242.9" cy="2801.3" r="8" fill="#0000ff" fill-opacity="0.90"/>
<circle cx="1265.3" cy="2801.3" r="8" fill="#0000ff" fill-opacity="0.90"/>
<circle cx="1191.7" cy="2791.4" r="8" fill="#008000" fill-opacity="0.90"/>
<circle cx="1270.3" cy="2801.4" r="8" fill="#0000ff" fill-opacity="0.90"/>
<circle cx="1187.0" cy="2791.6" r="8" fill="#008000" fill-opacity="0.90"/>
<circle cx="1176.5" cy="2791.9" r="8" fill="#008000" fill-opacity="0.90"/>
<circle cx="1181.1" cy="2792.4" r="8" fill="#008000" fill-opacity="0.90"/>
<circle cx="1245.8" cy="2802.5" r="8" fill="#0000ff" fill-opacity="0.90"/>
<circle cx="1205.5" cy="2792.8" r="8" fill="#008000" fill-opacity="0.90"/>
<circle cx="1169.8" cy="2793.8" r="8" fill="#008000" fill-opacity="0.90"/>
<circle cx="1258.1" cy="2804.3" r="8" fill="#0000ff" fill-opacity="0.90"/>
<circle cx="1237.9" cy="2804.9" r="8" fill="#0000ff" fill-opacity="0.90"/>
<circle cx="1261.7" cy="2804.9" r="8" fill="#0000ff" fill-opacity="0.90"/>
<circle cx="1214.9" cy="2795.2" r="8" fill="#008000" fill-opacity="1.00"/>
<circle cx="1206.9" cy="2795.7" r="8" fill="#008000" fill-opacity="0.90"/>
<circle cx="1245.8" cy="2806.4" r="8" fill="#0000ff" fill-opacity="0.90"/>
<circle cx="1195.0" cy="2796.5" r="8" fill="#008000" fill-opacity="0.90"/>
<circle cx="1191.1" cy="2796.7" r="8" fill="#008000" fill-opacity="0.90"/>
<circle cx="1185.1" cy="2797.2" r="8" fill="#008000" fill-opacity="1.00"/>
<circle cx="1199.0" cy="2797.2" r="8" fill="#008000" fill-opacity="1.00"/>
<circle cx="1169.1" cy="2797.2" r="8" fill="#008000" fill-opacity="1.00"/>
<circle cx="1251.1" cy="2807.5" r="8" fill="#0000ff" fill-opacity="0.90"/>
<circle cx="1172.3" cy="2797.7" r="8" fill="#008000" fill-opacity="0.90"/>
<circle cx="1268.4" cy="2807.8" r="8" fill="#0000ff" fill-opacity="0.90"/>
<circle cx="1214.6" cy="2797.8" r="8" fill="#008000" fill-opacity="0.90"/>
<circle cx="1142.6" cy="2788.2" r="8" fill="#ff0000" fill-opacity="0.80"/>
<circle cx="1203.0" cy="2798.3" r="8" fill="#008000" fill-opacity="0.90"/>
<circle cx="1176.6" cy="2798.6" r="8" fill="#008000" fill-opacity="0.90"/>
<circle cx="1183.4" cy="2799.1" r="8" fill="#008000" fill-opacity="0.90"/>
<circle cx="1252.0" cy="2809.8" r="8" fill="#0000ff" fill-opacity="0.90"/>
<circle cx="1247.6" cy="2810.7" r="8" fill="#0000ff" fill-opacity="0.90"/>
<circle cx="1258.6" cy="2810.7" r="8" fill="#0000ff" fill-opacity="0.90"/>
<circle cx="1273.1" cy="2810.9" r="8" fill="#0000ff" fill-opacity="0.90"/>
<circle cx="1241.2" cy="2811.3" r="8" fill="#0000ff" fill-opacity="0.90"/>
<circle cx="1211.5" cy="2801.4" r="8" fill="#008000" fill-opacity="0.90"/>
<circle cx="1181.5" cy="2801.5" r="8" fill="#008000" fill-opacity="0.90"/>
<circle cx="1194.8" cy="2801.6" r="8" fill="#008000" fill-opacity="0.90"/>
<circle cx="1266.3" cy="2811.7" r="8" fill="#0000ff" fill-opacity="0.90"/>
<circle cx="1189.4" cy="2801.9" r="8" fill="#008000" fill-opacity="0.90"/>
<circle cx="1216.4" cy="2802.3" r="8" fill="#008000" fill-opacity="0.90"/>
<circle cx="1198.4" cy="2803.7" r="8" fill="#008000" fill-opacity="0.90"/>
<circle cx="1224.2" cy="2804.5" r="8" fill="#008000" fill-opacity="0.90"/>
<circle cx="1204.7" cy="2804.5" r="8" fill="#008000" fill-opacity="0.90"/>
<circle cx="1257.3" cy="2815.7" r="8" fill="#0000ff" fill-opacity="0.90"/>
<circle cx="1269.5" cy="2815.9" r="8" fill="#0000ff" fill-opacity="0.90"/>
<circle cx="1222.1" cy="2806.0" r="8" fill="#008000" fill-opacity="0.90"/>
<circle cx="1250.8" cy="2816.0" r="8" fill="#0000ff" fill-opacity="0.90"/>
<circle cx="1180.3" cy="2806.3" r="8" fill="#008000" fill-opacity="0.90"/>
<circle cx="1186.3" cy="2806.7" r="8" fill="#008000" fill-opacity="0.90"/>
<circle cx="1213.3" cy="2807.3" r="8" fill="#008000" fill-opacity="0.90"/>
<circle cx="1293.4" cy="2817.5" r="8" fill="#0000ff" fill-opacity="0.70"/>
<circle cx="1197.8" cy="2807.6" r="8" fill="#008000" fill-opacity="0.90"/>
<circle cx="1263.2" cy="2817.7" r="8" fill="#0000ff" fill-opacity="0.90"/>
<circle cx="1200.7" cy="2807.7" r="8" fill="#008000" fill-opacity="0.90"/>
<circle cx="1318.3" cy="2818.5" r="8" fill="#0000ff" fill-opacity="0.70"/>
<circle cx="1275.4" cy="2818.6" r="8" fill="#0000ff" fill-opacity="0.90"/>
<circle cx="1226.1" cy="2809.1" r="8" fill="#008000" fill-opacity="0.90"/>
<circle cx="1189.9" cy="2809.1" r="8" fill="#008000" fill-opacity="0.90"/>
<circle cx="1143.2" cy="2799.2" r="8" fill="#ff0000" fill-opacity="0.80"/>
<circle cx="1167.1" cy="2799.2" r="8" fill="#ff0000" fill-opacity="0.90"/>
<circle cx="1208.0" cy="2809.5" r="8" fill="#008000" fill-opacity="0.90"/>
<circle cx="1272.8" cy="2820.6" r="8" fill="#0000ff" fill-opacity="0.90"/>
<circle cx="1224.6" cy="2811.4" r="8" fill="#008000" fill-opacity="0.90"/>
<circle cx="1305.4" cy="2821.5" r="8" fill="#0000ff" fill-opacity="0.70"/>
<circle cx="1167.9" cy="2801.6" r="8" fill="#ff0000" fill-opacity="0.90"/>
<circle cx="1195.2" cy="2811.8" r="8" fill="#008000" fill-opacity="0.90"/>
<circle cx="1211.9" cy="2812.4" r="8" fill="#008000" fill-opacity="0.90"/>
<circle cx="1216.8" cy="2812.5" r="8" fill="#008000" fill-opacity="0.90"/>
<circle cx="1264.8" cy="2823.0" r="8" fill="#0000ff" fill-opacity="0.90"/>
<circle cx="1187.2" cy="2813.0" r="8" fill="#008000" fill-opacity="0.90"/>
<circle cx="1253.7" cy="2823.4" r="8" fill="#0000ff" fill-opacity="0.90"/>
<circle cx="1258.2" cy="2823.4" r="8" fill="#0000ff" fill-opacity="0.90"/>
<circle cx="1278.8" cy="2823.9" r="8" fill="#0000ff" fill-opacity="0.90"/>
<circle cx="1200.7" cy="2814.0" r="8" fill="#008000" fill-opacity="0.90"/>
<circle cx="1228.3" cy="2814.1" r="8" fill="#008000" fill-opacity="0.90"/>
<circle cx="1206.8" cy="2814.1" r="8" fill="#008000" fill-opacity="0.90"/>
<circle cx="1258.3" cy="2825.1" r="8" fill="#0000ff" fill-opacity="0.90"/>
<circle cx="1311.4" cy="2825.5" r="8" fill="#0000ff" fill-opacity="0.80"/>
<circle cx="1279.1" cy="2825.5" r="8" fill="#0000ff" fill-opacity="0.90"/>
<circle cx="1273.9" cy="2826.0" r="8" fill="#0000ff" fill-opacity="0.90"/>
<circle cx="1228.5" cy="2816.7" r="8" fill="#008000" fill-opacity="0.90"/>
<circle cx="1214.5" cy="2817.2" r="8" fill="#008000" fill-opacity="0.90"/>
<circle cx="1267.4" cy="2827.5" r="8" fill="#0000ff" fill-opacity="0.90"/>
<circle cx="1202.8" cy="2817.6" r="8" fill="#008000" fill-opacity="0.90"/>
<circle cx="1262.8" cy="2828.8" r="8" fill="#0000ff" fill-opacity="0.90"/>
<circle cx="1221.7" cy="2818.9" r="8" fill="#008000" fill-opacity="0.90"/>
<circle cx="1289.4" cy="2829.5" r="8" fill="#0000ff" fill-opacity="0.90"/>
<circle cx="1232.4" cy="2819.5" r="8" fill="#008000" fill-opacity="0.90"/>
<circle cx="1195.1" cy="2819.8" r="8" fill="#008000" fill-opacity="0.90"/>
<circle cx="1208.1" cy="2820.2" r="8" fill="#008000" fill-opacity="0.90"/>
<circle cx="1264.9" cy="2830.3" r="8" fill="#0000ff" fill-opacity="0.90"/>
<circle cx="1275.6" cy="2831.0" r="8" fill="#0000ff" fill-opacity="0.90"/>
<circle cx="1284.2" cy="2831.4" r="8" fill="#0000ff" fill-opacity="0.90"/>
<circle cx="1258.8" cy="2831.6" r="8" fill="#0000ff" fill-opacity="0.90"/>
<circle cx="1224.0" cy="2821.8" r="8" fill="#008000" fill-opacity="0.90"/>
<circle cx="1209.7" cy="2821.8" r="8" fill="#008000" fill-opacity="0.90"/>
<circle cx="1198.7" cy="2822.3" r="8" fill="#008000" fill-opacity="0.90"/>
<circle cx="1157.0" cy="2812.5" r="8" fill="#ff0000" fill-opacity="0.80"/>
<circle cx="1270.2" cy="2832.6" r="8" fill="#0000ff" fill-opacity="0.90"/>
<circle cx="1235.1" cy="2822.6" r="8" fill="#008000" fill-opacity="0.90"/>
<circle cx="1206.7" cy="2823.6" r="8" fill="#008000" fill-opacity="0.90"/>
<circle cx="1217.1" cy="2823.6" r="8" fill="#008000" fill-opacity="0.90"/>
<circle cx="1228.1" cy="2824.2" r="8" fill="#008000" fill-opacity="0.90"/>
<circle cx="1240.7" cy="2825.3" r="8" fill="#008000" fill-opacity="0.90"/>
<circle cx="1263.8" cy="2836.1" r="8" fill="#0000ff" fill-opacity="0.90"/>
<circle cx="1285.6" cy="2836.5" r="8" fill="#0000ff" fill-opacity="0.90"/>
<circle cx="1279.4" cy="2836.5" r="8" fill="#0000ff" fill-opacity="0.90"/>
<circle cx="1232.4" cy="2826.9" r="8" fill="#008000" fill-opacity="0.90"/>
<circle cx="1219.3" cy="2827.1" r="8" fill="#008000" fill-opacity="0.90"/>
<circle cx="1187.8" cy="2817.5" r="8" fill="#ff0000" fill-opacity="0.90"/>
<circle cx="1267.7" cy="2837.5" r="8" fill="#0000ff" fill-opacity="0.90"/>
<circle cx="1240.2" cy="2828.2" r="8" fill="#008000" fill-opacity="0.90"/>
<circle cx="1321.3" cy="2838.4" r="8" fill="#0000ff" fill-opacity="0.70"/>
<circle cx="1246.1" cy="2829.1" r="8" fill="#008000" fill-opacity="0.90"/>
<circle cx="1272.4" cy="2839.4" r="8" fill="#0000ff" fill-opacity="0.90"/>
<circle cx="1174.9" cy="2819.5" r="8" fill="#ff0000" fill-opacity="0.90"/>
<circle cx="1215.7" cy="2830.5" r="8" fill="#008000" fill-opacity="0.90"/>
<circle cx="1165.9" cy="2820.5" r="8" fill="#ff0000" fill-opacity="0.80"/>
<circle cx="1228.3" cy="2830.5" r="8" fill="#008000" fill-opacity="0.90"/>
<circle cx="1288.9" cy="2840.8" r="8" fill="#0000ff" fill-opacity="0.90"/>
<circle cx="1278.7" cy="2841.3" r="8" fill="#0000ff" fill-opacity="0.90"/>
<circle cx="1265.6" cy="2841.3" r="8" fill="#0000ff" fill-opacity="0.90"/>
<circle cx="1195.8" cy="2821.5" r="8" fill="#ff0000" fill-opacity="0.90"/>
<circle cx="1273.0" cy="2842.0" r="8" fill="#0000ff" fill-opacity="0.90"/>
<circle cx="1241.4" cy="2832.3" r="8" fill="#008000" fill-opacity="0.90"/>
<circle cx="1235.3" cy="2832.6" r="8" fill="#008000" fill-opacity="0.90"/>
<circle cx="1223.4" cy="2832.8" r="8" fill="#008000" fill-opacity="0.90"/>
<circle cx="1294.9" cy="2843.2" r="8" fill="#0000ff" fill-opacity="0.90"/>
<circle cx="1246.0" cy="2833.6" r="8" fill="#008000" fill-opacity="0.90"/>
<circle cx="1175.6" cy="2823.9" r="8" fill="#ff0000" fill-opacity="0.90"/>
<circle cx="1284.5" cy="2844.6" r="8" fill="#0000ff" fill-opacity="0.90"/>
<circle cx="1230.5" cy="2835.0" r="8" fill="#008000" fill-opacity="0.90"/>
<circle cx="1297.2" cy="2846.4" r="8" fill="#0000ff" fill-opacity="0.90"/>
<circle cx="1286.4" cy="2847.3" r="8" fill="#0000ff" fill-opacity="0.90"/>
<circle cx="1301.4" cy="2847.4" r="8" fill="#0000ff" fill-opacity="1.00"/>
<circle cx="1291.1" cy="2847.5" r="8" fill="#0000ff" fill-opacity="0.90"/>
<circle cx="1221.8" cy="2837.6" r="8" fill="#008000" fill-opacity="0.90"/>
<circle cx="1272.8" cy="2847.7" r="8" fill="#0000ff" fill-opacity="0.90"/>
<circle cx="1242.6" cy="2837.8" r="8" fill="#008000" fill-opacity="0.90"/>
<circle cx="1279.0" cy="2848.0" r="8" fill="#0000ff" fill-opacity="0.90"/>
<circle cx="1268.3" cy="2848.0" r="8" fill="#0000ff" fill-opacity="0.90"/>
<circle cx="1231.3" cy="2838.1" r="8" fill="#008000" fill-opacity="0.90"/>
<circle cx="1238.5" cy="2838.3" r="8" fill="#008000" fill-opacity="0.90"/>
<circle cx="1177.7" cy="2828.4" r="8" fill="#ff0000" fill-opacity="0.90"/>
<circle cx="1303.3" cy="2849.3" r="8" fill="#0000ff" fill-opacity="0.90"/>
<circle cx="1183.9" cy="2829.8" r="8" fill="#ff0000" fill-opacity="0.90"/>
<circle cx="1188.2" cy="2831.8" r="8" fill="#ff0000" fill-opacity="0.90"/>
<circle cx="1296.8" cy="2852.3" r="8" fill="#0000ff" fill-opacity="0.90"/>
<circle cx="1283.7" cy="2852.8" r="8" fill="#0000ff" fill-opacity="0.90"/>
<circle cx="1303.2" cy="2853.2" r="8" fill="#0000ff" fill-opacity="0.90"/>
<circle cx="1186.9" cy="2833.5" r="8" fill="#ff0000" fill-opacity="0.90"/>
<circle cx="1273.0" cy="2854.0" r="8" fill="#0000ff" fill-opacity="0.90"/>
<circle cx="1290.6" cy="2854.2" r="8" fill="#0000ff" fill-opacity="0.90"/>
<circle cx="1278.7" cy="2854.3" r="8" fill="#0000ff" fill-opacity="0.90"/>
<circle cx="1192.9" cy="2836.7" r="8" fill="#ff0000" fill-opacity="0.90"/>
<circle cx="1196.8" cy="2837.5" r="8" fill="#ff0000" fill-opacity="0.80"/>
<circle cx="1205.8" cy="2837.5" r="8" fill="#ff0000" fill-opacity="1.00"/>
<circle cx="1188.9" cy="2837.5" r="8" fill="#ff0000" fill-opacity="0.90"/>
<circle cx="1279.3" cy="2857.7" r="8" fill="#0000ff" fill-opacity="0.90"/>
<circle cx="1293.8" cy="2858.3" r="8" fill="#0000ff" fill-opacity="0.90"/>
<circle cx="1284.8" cy="2858.5" r="8" fill="#0000ff" fill-opacity="0.90"/>
<circle cx="1308.7" cy="2858.7" r="8" fill="#0000ff" fill-opacity="0.90"/>
<circle cx="1305.9" cy="2858.9" r="8" fill="#0000ff" fill-opacity="0.90"/>
<circle cx="1297.9" cy="2860.0" r="8" fill="#0000ff" fill-opacity="0.90"/>
<circle cx="1195.4" cy="2840.9" r="8" fill="#ff0000" fill-opacity="0.90"/>
<circle cx="1220.0" cy="2840.9" r="8" fill="#ff0000" fill-opacity="0.90"/>
<circle cx="1209.8" cy="2841.0" r="8" fill="#ff0000" fill-opacity="0.90"/>
<circle cx="1203.8" cy="2841.0" r="8" fill="#ff0000" fill-opacity="0.90"/>
<circle cx="1191.2" cy="2841.2" r="8" fill="#ff0000" fill-opacity="0.90"/>
<circle cx="1329.3" cy="2861.4" r="8" fill="#0000ff" fill-opacity="1.00"/>
<circle cx="1306.6" cy="2862.1" r="8" fill="#0000ff" fill-opacity="0.90"/>
<circle cx="1244.9" cy="2842.5" r="8" fill="#ff0000" fill-opacity="0.90"/>
<circle cx="1285.2" cy="2862.5" r="8" fill="#0000ff" fill-opacity="0.90"/>
<circle cx="1227.0" cy="2842.6" r="8" fill="#ff0000" fill-opacity="0.90"/>
<circle cx="1314.4" cy="2863.3" r="8" fill="#0000ff" fill-opacity="0.90"/>
<circle cx="1224.4" cy="2844.3" r="8" fill="#ff0000" fill-opacity="0.90"/>
<circle cx="1193.1" cy="2844.5" r="8" fill="#ff0000" fill-opacity="0.90"/>
<circle cx="1301.9" cy="2864.6" r="8" fill="#0000ff" fill-opacity="0.90"/>
<circle cx="1295.1" cy="2864.8" r="8" fill="#0000ff" fill-opacity="0.90"/>
<circle cx="1212.4" cy="2844.8" r="8" fill="#ff0000" fill-opacity="0.90"/>
<circle cx="1288.2" cy="2865.1" r="8" fill="#0000ff" fill-opacity="0.90"/>
<circle cx="1243.1" cy="2845.2" r="8" fill="#ff0000" fill-opacity="0.90"/>
<circle cx="1252.4" cy="2846.6" r="8" fill="#ff0000" fill-opacity="0.90"/>
<circle cx="1285.4" cy="2866.9" r="8" fill="#0000ff" fill-opacity="0.90"/>
<circle cx="1230.2" cy="2847.0" r="8" fill="#ff0000" fill-opacity="0.90"/>
<circle cx="1303.2" cy="2867.0" r="8" fill="#0000ff" fill-opacity="0.90"/>
<circle cx="1200.4" cy="2847.2" r="8" fill="#ff0000" fill-opacity="0.90"/>
<circle cx="1235.6" cy="2847.2" r="8" fill="#ff0000" fill-opacity="0.90"/>
<circle cx="1215.1" cy="2847.4" r="8" fill="#ff0000" fill-opacity="0.90"/>
<circle cx="1192.8" cy="2847.4" r="8" fill="#ff0000" fill-opacity="0.90"/>
<circle cx="1297.4" cy="2867.5" r="8" fill="#0000ff" fill-opacity="0.90"/>
<circle cx="1248.4" cy="2847.6" r="8" fill="#ff0000" fill-opacity="0.90"/>
<circle cx="1204.0" cy="2847.7" r="8" fill="#ff0000" fill-opacity="0.90"/>
<circle cx="1317.6" cy="2868.1" r="8" fill="#0000ff" fill-opacity="0.90"/>
<circle cx="1313.3" cy="2869.3" r="8" fill="#0000ff" fill-opacity="1.00"/>
<circle cx="1243.1" cy="2849.5" r="8" fill="#ff0000" fill-opacity="0.90"/>
<circle cx="1292.8" cy="2869.9" r="8" fill="#0000ff" fill-opacity="0.90"/>
<circle cx="1203.1" cy="2850.0" r="8" fill="#ff0000" fill-opacity="0.90"/>
<circle cx="1239.6" cy="2850.1" r="8" fill="#ff0000" fill-opacity="0.90"/>
<circle cx="1207.4" cy="2850.2" r="8" fill="#ff0000" fill-opacity="0.90"/>
<circle cx="1311.1" cy="2870.5" r="8" fill="#0000ff" fill-opacity="0.90"/>
<circle cx="1220.0" cy="2850.6" r="8" fill="#ff0000" fill-opacity="0.90"/>
<circle cx="1254.7" cy="2850.8" r="8" fill="#ff0000" fill-opacity="0.90"/>
<circle cx="1231.9" cy="2851.4" r="8" fill="#ff0000" fill-opacity="0.90"/>
<circle cx="1209.8" cy="2851.4" r="8" fill="#ff0000" fill-opacity="1.00"/>
<circle cx="1215.6" cy="2851.7" r="8" fill="#ff0000" fill-opacity="0.90"/>
<circle cx="1250.1" cy="2852.2" r="8" fill="#ff0000" fill-opacity="0.90"/>
<circle cx="1317.5" cy="2872.5" r="8" fill="#0000ff" fill-opacity="0.90"/>
<circle cx="1227.8" cy="2852.9" r="8" fill="#ff0000" fill-opacity="0.90"/>
<circle cx="1315.3" cy="2873.1" r="8" fill="#0000ff" fill-opacity="0.90"/>
<circle cx="1300.4" cy="2873.3" r="8" fill="#0000ff" fill-opacity="0.90"/>
<circle cx="1296.2" cy="2874.4" r="8" fill="#0000ff" fill-opacity="0.90"/>
<circle cx="1306.0" cy="2874.4" r="8" fill="#0000ff" fill-opacity="0.90"/>
<circle cx="1210.6" cy="2854.7" r="8" fill="#ff0000" fill-opacity="0.90"/>
<circle cx="1252.8" cy="2855.3" r="8" fill="#ff0000" fill-opacity="0.90"/>
<circle cx="1287.4" cy="2875.3" r="8" fill="#0000ff" fill-opacity="0.90"/>
<circle cx="1324.8" cy="2875.4" r="8" fill="#0000ff" fill-opacity="0.90"/>
<circle cx="1231.0" cy="2855.9" r="8" fill="#ff0000" fill-opacity="0.90"/>
<circle cx="1234.5" cy="2856.0" r="8" fill="#ff0000" fill-opacity="0.90"/>
<circle cx="1223.4" cy="2856.1" r="8" fill="#ff0000" fill-opacity="0.90"/>
<circle cx="1258.4" cy="2856.3" r="8" fill="#ff0000" fill-opacity="0.90"/>
<circle cx="1342.2" cy="2876.3" r="8" fill="#0000ff" fill-opacity="0.90"/>
<circle cx="1215.4" cy="2856.4" r="8" fill="#ff0000" fill-opacity="0.90"/>
<circle cx="1197.8" cy="2856.4" r="8" fill="#ff0000" fill-opacity="0.80"/>
<circle cx="1247.5" cy="2856.5" r="8" fill="#ff0000" fill-opacity="0.90"/>
<circle cx="1206.9" cy="2856.8" r="8" fill="#ff0000" fill-opacity="0.90"/>
<circle cx="1298.7" cy="2877.3" r="8" fill="#0000ff" fill-opacity="0.90"/>
<circle cx="1326.5" cy="2877.4" r="8" fill="#0000ff" fill-opacity="0.90"/>
<circle cx="1239.8" cy="2858.0" r="8" fill="#ff0000" fill-opacity="0.90"/>
<circle cx="1264.9" cy="2858.2" r="8" fill="#ff0000" fill-opacity="0.90"/>
<circle cx="1309.3" cy="2878.6" r="8" fill="#0000ff" fill-opacity="0.90"/>
<circle cx="1322.9" cy="2880.0" r="8" fill="#0000ff" fill-opacity="0.90"/>
<circle cx="1317.5" cy="2880.3" r="8" fill="#0000ff" fill-opacity="0.90"/>
<circle cx="1239.0" cy="2860.7" r="8" fill="#ff0000" fill-opacity="0.90"/>
<circle cx="1212.5" cy="2860.8" r="8" fill="#ff0000" fill-opacity="0.90"/>
<circle cx="1303.3" cy="2881.0" r="8" fill="#0000ff" fill-opacity="0.90"/>
<circle cx="1224.2" cy="2861.3" r="8" fill="#ff0000" fill-opacity="0.90"/>
<circle cx="1208.2" cy="2862.0" r="8" fill="#ff0000" fill-opacity="0.90"/>
<circle cx="1243.0" cy="2862.3" r="8" fill="#ff0000" fill-opacity="0.90"/>
<circle cx="1320.2" cy="2882.4" r="8" fill="#0000ff" fill-opacity="0.90"/>
<circle cx="1249.3" cy="2862.4" r="8" fill="#ff0000" fill-opacity="0.90"/>
<circle cx="1255.5" cy="2862.5" r="8" fill="#ff0000" fill-opacity="0.90"/>
<circle cx="1233.6" cy="2862.6" r="8" fill="#ff0000" fill-opacity="0.90"/>
<circle cx="1262.4" cy="2862.8" r="8" fill="#ff0000" fill-opacity="0.90"/>
<circle cx="1219.0" cy="2862.9" r="8" fill="#ff0000" fill-opacity="0.90"/>
<circle cx="1360.2" cy="2883.3" r="8" fill="#0000ff" fill-opacity="0.80"/>
<circle cx="1327.3" cy="2883.3" r="8" fill="#0000ff" fill-opacity="1.00"/>
<circle cx="1219.7" cy="2863.3" r="8" fill="#ff0000" fill-opacity="1.00"/>
<circle cx="1264.3" cy="2864.7" r="8" fill="#ff0000" fill-opacity="0.90"/>
<circle cx="1308.3" cy="2885.4" r="8" fill="#0000ff" fill-opacity="0.90"/>
<circle cx="1246.4" cy="2865.5" r="8" fill="#ff0000" fill-opacity="0.90"/>
<circle cx="1315.0" cy="2885.6" r="8" fill="#0000ff" fill-opacity="0.90"/>
<circle cx="1326.1" cy="2885.6" r="8" fill="#0000ff" fill-opacity="0.90"/>
<circle cx="1229.4" cy="2865.7" r="8" fill="#ff0000" fill-opacity="0.90"/>
<circle cx="1331.1" cy="2885.7" r="8" fill="#0000ff" fill-opacity="0.90"/>
<circle cx="1218.9" cy="2865.8" r="8" fill="#ff0000" fill-opacity="0.90"/>
<circle cx="1301.9" cy="2885.9" r="8" fill="#0000ff" fill-opacity="0.90"/>
<circle cx="1336.1" cy="2886.0" r="8" fill="#0000ff" fill-opacity="0.90"/>
<circle cx="1239.2" cy="2866.0" r="8" fill="#ff0000" fill-opacity="0.90"/>
<circle cx="1224.1" cy="2867.5" r="8" fill="#ff0000" fill-opacity="0.90"/>
<circle cx="1308.6" cy="2887.5" r="8" fill="#0000ff" fill-opacity="0.90"/>
<circle cx="1303.6" cy="2887.7" r="8" fill="#0000ff" fill-opacity="0.90"/>
<circle cx="1315.8" cy="2888.0" r="8" fill="#0000ff" fill-opacity="0.90"/>
<circle cx="1257.2" cy="2868.0" r="8" fill="#ff0000" fill-opacity="0.90"/>
<circle cx="1252.8" cy="2868.3" r="8" fill="#ff0000" fill-opacity="0.90"/>
<circle cx="1236.9" cy="2868.5" r="8" fill="#ff0000" fill-opacity="0.90"/>
<circle cx="1341.2" cy="2889.2" r="8" fill="#0000ff" fill-opacity="0.90"/>
<circle cx="1320.8" cy="2889.4" r="8" fill="#0000ff" fill-opacity="0.90"/>
<circle cx="1330.2" cy="2890.2" r="8" fill="#0000ff" fill-opacity="0.90"/>
<circle cx="1274.5" cy="2870.3" r="8" fill="#ff0000" fill-opacity="0.90"/>
<circle cx="1333.4" cy="2890.5" r="8" fill="#0000ff" fill-opacity="0.90"/>
<circle cx="1251.7" cy="2870.7" r="8" fill="#ff0000" fill-opacity="0.90"/>
<circle cx="1218.6" cy="2870.8" r="8" fill="#ff0000" fill-opacity="0.90"/>
<circle cx="1233.8" cy="2871.2" r="8" fill="#ff0000" fill-opacity="0.90"/>
<circle cx="1227.2" cy="2871.8" r="8" fill="#ff0000" fill-opacity="0.90"/>
<circle cx="1269.2" cy="2872.9" r="8" fill="#ff0000" fill-opacity="0.90"/>
<circle cx="1305.8" cy="2892.9" r="8" fill="#0000ff" fill-opacity="0.90"/>
<circle cx="1260.6" cy="2873.3" r="8" fill="#ff0000" fill-opacity="0.90"/>
<circle cx="1214.6" cy="2873.3" r="8" fill="#ff0000" fill-opacity="0.90"/>
<circle cx="1323.6" cy="2893.5" r="8" fill="#0000ff" fill-opacity="0.90"/>
<circle cx="1256.3" cy="2873.6" r="8" fill="#ff0000" fill-opacity="0.90"/>
<circle cx="1237.7" cy="2873.7" r="8" fill="#ff0000" fill-opacity="0.90"/>
<circle cx="1243.5" cy="2873.7" r="8" fill="#ff0000" fill-opacity="0.90"/>
<circle cx="1364.1" cy="2894.2" r="8" fill="#0000ff" fill-opacity="0.80"/>
<circle cx="1312.8" cy="2894.5" r="8" fill="#0000ff" fill-opacity="0.90"/>
<circle cx="1321.1" cy="2894.8" r="8" fill="#0000ff" fill-opacity="0.90"/>
<circle cx="1332.3" cy="2894.9" r="8" fill="#0000ff" fill-opacity="0.90"/>
<circle cx="1215.7" cy="2875.3" r="8" fill="#ff0000" fill-opacity="1.00"/>
<circle cx="1223.4" cy="2875.6" r="8" fill="#ff0000" fill-opacity="0.90"/>
<circle cx="1278.3" cy="2875.6" r="8" fill="#ff0000" fill-opacity="0.90"/>
<circle cx="1338.8" cy="2896.5" r="8" fill="#0000ff" fill-opacity="0.90"/>
<circle cx="1233.1" cy="2876.8" r="8" fill="#ff0000" fill-opacity="0.90"/>
<circle cx="1265.1" cy="2877.0" r="8" fill="#ff0000" fill-opacity="0.90"/>
<circle cx="1269.7" cy="2877.1" r="8" fill="#ff0000" fill-opacity="0.90"/>
<circle cx="1218.7" cy="2877.7" r="8" fill="#ff0000" fill-opacity="0.90"/>
<circle cx="1257.3" cy="2877.9" r="8" fill="#ff0000" fill-opacity="0.90"/>
<circle cx="1254.5" cy="2878.0" r="8" fill="#ff0000" fill-opacity="0.90"/>
<circle cx="1228.8" cy="2878.9" r="8" fill="#ff0000" fill-opacity="0.90"/>
<circle cx="1245.5" cy="2878.9" r="8" fill="#ff0000" fill-opacity="0.90"/>
<circle cx="1239.3" cy="2879.1" r="8" fill="#ff0000" fill-opacity="0.90"/>
<circle cx="1320.4" cy="2899.3" r="8" fill="#0000ff" fill-opacity="0.90"/>
<circle cx="1339.4" cy="2899.6" r="8" fill="#0000ff" fill-opacity="0.90"/>
<circle cx="1332.3" cy="2900.3" r="8" fill="#0000ff" fill-opacity="0.90"/>
<circle cx="1315.7" cy="2900.5" r="8" fill="#0000ff" fill-opacity="0.90"/>
<circle cx="1264.0" cy="2880.6" r="8" fill="#ff0000" fill-opacity="0.90"/>
<circle cx="1346.6" cy="2900.7" r="8" fill="#0000ff" fill-opacity="0.90"/>
<circle cx="1232.4" cy="2880.8" r="8" fill="#ff0000" fill-opacity="0.90"/>
<circle cx="1327.0" cy="2901.1" r="8" fill="#0000ff" fill-opacity="0.90"/>
<circle cx="1280.5" cy="2881.7" r="8" fill="#ff0000" fill-opacity="0.90"/>
<circle cx="1255.8" cy="2881.8" r="8" fill="#ff0000" fill-opacity="0.90"/>
<circle cx="1249.6" cy="2881.8" r="8" fill="#ff0000" fill-opacity="0.90"/>
<circle cx="1237.8" cy="2882.0" r="8" fill="#ff0000" fill-opacity="0.90"/>
<circle cx="1273.7" cy="2882.1" r="8" fill="#ff0000" fill-opacity="0.90"/>
<circle cx="1208.8" cy="2882.3" r="8" fill="#ff0000" fill-opacity="1.00"/>
<circle cx="1243.8" cy="2882.5" r="8" fill="#ff0000" fill-opacity="0.90"/>
<circle cx="1211.8" cy="2882.9" r="8" fill="#ff0000" fill-opacity="1.00"/>
<circle cx="1266.2" cy="2883.2" r="8" fill="#ff0000" fill-opacity="0.90"/>
<circle cx="1226.1" cy="2883.3" r="8" fill="#ff0000" fill-opacity="0.90"/>
<circle cx="1347.5" cy="2903.6" r="8" fill="#0000ff" fill-opacity="0.90"/>
<circle cx="1370.1" cy="2903.8" r="8" fill="#0000ff" fill-opacity="0.80"/>
<circle cx="1335.9" cy="2903.9" r="8" fill="#0000ff" fill-opacity="0.90"/>
<circle cx="1320.9" cy="2903.9" r="8" fill="#0000ff" fill-opacity="0.90"/>
<circle cx="1342.2" cy="2904.1" r="8" fill="#0000ff" fill-opacity="0.90"/>
<circle cx="1326.3" cy="2904.5" r="8" fill="#0000ff" fill-opacity="0.90"/>
<circle cx="1253.5" cy="2885.9" r="8" fill="#ff0000" fill-opacity="0.90"/>
<circle cx="1269.2" cy="2886.0" r="8" fill="#ff0000" fill-opacity="0.90"/>
<circle cx="1332.0" cy="2906.1" r="8" fill="#0000ff" fill-opacity="0.90"/>
<circle cx="1277.4" cy="2886.2" r="8" fill="#ff0000" fill-opacity="0.90"/>
<circle cx="1248.9" cy="2886.8" r="8" fill="#ff0000" fill-opacity="0.90"/>
<circle cx="1265.7" cy="2886.8" r="8" fill="#ff0000" fill-opacity="0.90"/>
<circle cx="1229.7" cy="2887.3" r="8" fill="#ff0000" fill-opacity="1.00"/>
<circle cx="1282.3" cy="2887.9" r="8" fill="#ff0000" fill-opacity="0.90"/>
<circle cx="1258.8" cy="2888.0" r="8" fill="#ff0000" fill-opacity="0.90"/>
<circle cx="1233.8" cy="2888.3" r="8" fill="#ff0000" fill-opacity="0.90"/>
<circle cx="1357.3" cy="2908.6" r="8" fill="#0000ff" fill-opacity="0.90"/>
<circle cx="1423.9" cy="2908.8" r="8" fill="#0000ff" fill-opacity="0.50"/>
<circle cx="1329.2" cy="2909.1" r="8" fill="#0000ff" fill-opacity="0.90"/>
<circle cx="1240.4" cy="2889.2" r="8" fill="#ff0000" fill-opacity="0.90"/>
<circle cx="1323.1" cy="2909.8" r="8" fill="#0000ff" fill-opacity="0.90"/>
<circle cx="1338.7" cy="2910.6" r="8" fill="#0000ff" fill-opacity="0.90"/>
<circle cx="1345.1" cy="2911.0" r="8" fill="#0000ff" fill-opacity="0.90"/>
<circle cx="1262.7" cy="2891.1" r="8" fill="#ff0000" fill-opacity="0.90"/>
<circle cx="1266.3" cy="2891.3" r="8" fill="#ff0000" fill-opacity="0.90"/>
<circle cx="1353.6" cy="2911.4" r="8" fill="#0000ff" fill-opacity="0.90"/>
<circle cx="1335.5" cy="2911.4" r="8" fill="#0000ff" fill-opacity="0.90"/>
<circle cx="1285.8" cy="2891.6" r="8" fill="#ff0000" fill-opacity="0.90"/>
<circle cx="1237.1" cy="2891.8" r="8" fill="#ff0000" fill-opacity="0.90"/>
<circle cx="1243.2" cy="2892.0" r="8" fill="#ff0000" fill-opacity="0.90"/>
<circle cx="1273.1" cy="2892.8" r="8" fill="#ff0000" fill-opacity="0.90"/>
<circle cx="1281.4" cy="2893.0" r="8" fill="#ff0000" fill-opacity="0.90"/>
<circle cx="1294.0" cy="2893.7" r="8" fill="#ff0000" fill-opacity="0.90"/>
<circle cx="1251.3" cy="2893.8" r="8" fill="#ff0000" fill-opacity="0.90"/>
<circle cx="1256.9" cy="2894.2" r="8" fill="#ff0000" fill-opacity="0.90"/>
<circle cx="1337.8" cy="2914.6" r="8" fill="#0000ff" fill-opacity="0.90"/>
<circle cx="1353.7" cy="2915.0" r="8" fill="#0000ff" fill-opacity="0.90"/>
<circle cx="1350.4" cy="2915.2" r="8" fill="#0000ff" fill-opacity="0.90"/>
<circle cx="1329.9" cy="2915.3" r="8" fill="#0000ff" fill-opacity="0.90"/>
<circle cx="1259.9" cy="2896.3" r="8" fill="#ff0000" fill-opacity="0.90"/>
<circle cx="1288.7" cy="2896.4" r="8" fill="#ff0000" fill-opacity="0.90"/>
<circle cx="1248.2" cy="2896.4" r="8" fill="#ff0000" fill-opacity="0.90"/>
<circle cx="1341.6" cy="2916.4" r="8" fill="#0000ff" fill-opacity="0.90"/>
<circle cx="1270.7" cy="2896.5" r="8" fill="#ff0000" fill-opacity="0.90"/>
<circle cx="1281.6" cy="2896.5" r="8" fill="#ff0000" fill-opacity="0.90"/>
<circle cx="1277.7" cy="2897.1" r="8" fill="#ff0000" fill-opacity="0.90"/>
<circle cx="1359.7" cy="2917.3" r="8" fill="#0000ff" fill-opacity="0.90"/>
<circle cx="1301.3" cy="2897.5" r="8" fill="#ff0000" fill-opacity="0.90"/>
<circle cx="1387.1" cy="2917.7" r="8" fill="#0000ff" fill-opacity="0.90"/>
<circle cx="1423.9" cy="2917.7" r="8" fill="#0000ff" fill-opacity="0.50"/>
<circle cx="1235.7" cy="2897.8" r="8" fill="#ff0000" fill-opacity="0.90"/>
<circle cx="1294.7" cy="2898.1" r="8" fill="#ff0000" fill-opacity="0.90"/>
<circle cx="1265.9" cy="2899.0" r="8" fill="#ff0000" fill-opacity="0.90"/>
<circle cx="1359.7" cy="2919.1" r="8" fill="#0000ff" fill-opacity="0.90"/>
<circle cx="1207.8" cy="2899.2" r="8" fill="#ff0000" fill-opacity="1.00"/>
<circle cx="1252.3" cy="2899.3" r="8" fill="#ff0000" fill-opacity="0.90"/>
<circle cx="1347.6" cy="2919.6" r="8" fill="#0000ff" fill-opacity="0.90"/>
<circle cx="1364.5" cy="2920.0" r="8" fill="#0000ff" fill-opacity="0.90"/>
<circle cx="1353.0" cy="2920.1" r="8" fill="#0000ff" fill-opacity="0.90"/>
<circle cx="1258.0" cy="2901.2" r="8" fill="#ff0000" fill-opacity="0.90"/>
<circle cx="1305.8" cy="2901.3" r="8" fill="#ff0000" fill-opacity="0.90"/>
<circle cx="1284.5" cy="2901.6" r="8" fill="#ff0000" fill-opacity="0.90"/>
<circle cx="1341.3" cy="2921.6" r="8" fill="#0000ff" fill-opacity="0.90"/>
<circle cx="1379.1" cy="2921.7" r="8" fill="#0000ff" fill-opacity="0.90"/>
<circle cx="1248.5" cy="2901.8" r="8" fill="#ff0000" fill-opacity="0.90"/>
<circle cx="1263.4" cy="2903.2" r="8" fill="#ff0000" fill-opacity="0.90"/>
<circle cx="1268.3" cy="2903.2" r="8" fill="#ff0000" fill-opacity="0.90"/>
<circle cx="1273.8" cy="2903.3" r="8" fill="#ff0000" fill-opacity="0.90"/>
<circle cx="1292.8" cy="2903.6" r="8" fill="#ff0000" fill-opacity="0.90"/>
<circle cx="1299.3" cy="2903.8" r="8" fill="#ff0000" fill-opacity="0.90"/>
<circle cx="1278.5" cy="2904.7" r="8" fill="#ff0000" fill-opacity="0.90"/>
<circle cx="1348.2" cy="2925.0" r="8" fill="#0000ff" fill-opacity="0.90"/>
<circle cx="1360.1" cy="2926.0" r="8" fill="#0000ff" fill-opacity="0.90"/>
<circle cx="1367.3" cy="2926.5" r="8" fill="#0000ff" fill-opacity="0.90"/>
<circle cx="1290.4" cy="2906.6" r="8" fill="#ff0000" fill-opacity="0.90"/>
<circle cx="1354.7" cy="2926.7" r="8" fill="#0000ff" fill-opacity="0.90"/>
<circle cx="1344.2" cy="2927.5" r="8" fill="#0000ff" fill-opacity="0.90"/>
<circle cx="1371.9" cy="2927.6" r="8" fill="#0000ff" fill-opacity="0.90"/>
<circle cx="1293.6" cy="2907.6" r="8" fill="#ff0000" fill-opacity="0.90"/>
<circle cx="1299.6" cy="2907.9" r="8" fill="#ff0000" fill-opacity="0.90"/>
<circle cx="1265.3" cy="2908.0" r="8" fill="#ff0000" fill-opacity="0.90"/>
<circle cx="1270.3" cy="2908.7" r="8" fill="#ff0000" fill-opacity="0.90"/>
<circle cx="1284.9" cy="2909.2" r="8" fill="#ff0000" fill-opacity="0.90"/>
<circle cx="1381.0" cy="2929.3" r="8" fill="#0000ff" fill-opacity="0.90"/>
<circle cx="1376.7" cy="2929.6" r="8" fill="#0000ff" fill-opacity="0.90"/>
<circle cx="1309.1" cy="2909.6" r="8" fill="#ff0000" fill-opacity="0.90"/>
<circle cx="1260.7" cy="2909.6" r="8" fill="#ff0000" fill-opacity="0.90"/>
<circle cx="1370.2" cy="2929.8" r="8" fill="#0000ff" fill-opacity="0.90"/>
<circle cx="1276.5" cy="2910.2" r="8" fill="#ff0000" fill-opacity="0.90"/>
<circle cx="1351.1" cy="2930.9" r="8" fill="#0000ff" fill-opacity="0.90"/>
<circle cx="1279.1" cy="2911.6" r="8" fill="#ff0000" fill-opacity="0.90"/>
<circle cx="1249.6" cy="2911.8" r="8" fill="#ff0000" fill-opacity="0.90"/>
<circle cx="1263.9" cy="2911.9" r="8" fill="#ff0000" fill-opacity="0.90"/>
<circle cx="1287.9" cy="2912.5" r="8" fill="#ff0000" fill-opacity="0.90"/>
<circle cx="1364.3" cy="2932.8" r="8" fill="#0000ff" fill-opacity="0.90"/>
<circle cx="1358.1" cy="2932.9" r="8" fill="#0000ff" fill-opacity="0.90"/>
<circle cx="1292.4" cy="2912.9" r="8" fill="#ff0000" fill-opacity="0.90"/>
<circle cx="1314.2" cy="2913.1" r="8" fill="#ff0000" fill-opacity="0.90"/>
<circle cx="1384.9" cy="2934.6" r="8" fill="#0000ff" fill-opacity="0.90"/>
<circle cx="1309.1" cy="2914.7" r="8" fill="#ff0000" fill-opacity="0.90"/>
<circle cx="1305.9" cy="2915.0" r="8" fill="#ff0000" fill-opacity="0.90"/>
<circle cx="1373.1" cy="2935.0" r="8" fill="#0000ff" fill-opacity="0.90"/>
<circle cx="1298.4" cy="2915.2" r="8" fill="#ff0000" fill-opacity="0.90"/>
<circle cx="1274.3" cy="2915.3" r="8" fill="#ff0000" fill-opacity="0.90"/>
<circle cx="1267.6" cy="2915.4" r="8" fill="#ff0000" fill-opacity="0.90"/>
<circle cx="1275.8" cy="2916.7" r="8" fill="#ff0000" fill-opacity="0.90"/>
<circle cx="1288.6" cy="2916.7" r="8" fill="#ff0000" fill-opacity="0.90"/>
<circle cx="1305.9" cy="2916.9" r="8" fill="#ff0000" fill-opacity="0.90"/>
<circle cx="1313.9" cy="2917.1" r="8" fill="#ff0000" fill-opacity="0.90"/>
<circle cx="1294.8" cy="2917.6" r="8" fill="#ff0000" fill-opacity="0.90"/>
<circle cx="1380.3" cy="2937.6" r="8" fill="#0000ff" fill-opacity="0.90"/>
<circle cx="1401.0" cy="2937.6" r="8" fill="#0000ff" fill-opacity="0.80"/>
<circle cx="1361.6" cy="2937.9" r="8" fill="#0000ff" fill-opacity="0.90"/>
<circle cx="1365.7" cy="2937.9" r="8" fill="#0000ff" fill-opacity="0.90"/>
<circle cx="1357.0" cy="2938.0" r="8" fill="#0000ff" fill-opacity="0.90"/>
<circle cx="1318.0" cy="2918.4" r="8" fill="#ff0000" fill-opacity="0.90"/>
<circle cx="1284.1" cy="2919.0" r="8" fill="#ff0000" fill-opacity="0.90"/>
<circle cx="1382.3" cy="2940.5" r="8" fill="#0000ff" fill-opacity="0.90"/>
<circle cx="1301.5" cy="2920.6" r="8" fill="#ff0000" fill-opacity="0.90"/>
<circle cx="1439.8" cy="2941.2" r="8" fill="#0000ff" fill-opacity="0.60"/>
<circle cx="1369.4" cy="2941.8" r="8" fill="#0000ff" fill-opacity="0.90"/>
<circle cx="1225.1" cy="2922.1" r="8" fill="#ff0000" fill-opacity="1.00"/>
<circle cx="1284.1" cy="2922.1" r="8" fill="#ff0000" fill-opacity="0.90"/>
<circle cx="1360.3" cy="2942.1" r="8" fill="#0000ff" fill-opacity="0.90"/>
<circle cx="1363.6" cy="2942.4" r="8" fill="#0000ff" fill-opacity="0.90"/>
<circle cx="1304.6" cy="2922.6" r="8" fill="#ff0000" fill-opacity="0.90"/>
<circle cx="1375.0" cy="2942.8" r="8" fill="#0000ff" fill-opacity="0.90"/>
<circle cx="1318.0" cy="2923.3" r="8" fill="#ff0000" fill-opacity="0.90"/>
<circle cx="1311.5" cy="2923.5" r="8" fill="#ff0000" fill-opacity="0.90"/>
<circle cx="1290.3" cy="2923.6" r="8" fill="#ff0000" fill-opacity="0.90"/>
<circle cx="1411.0" cy="2943.6" r="8" fill="#0000ff" fill-opacity="0.70"/>
<circle cx="1296.2" cy="2923.9" r="8" fill="#ff0000" fill-opacity="0.90"/>
<circle cx="1322.6" cy="2924.0" r="8" fill="#ff0000" fill-opacity="0.90"/>
<circle cx="1281.8" cy="2924.5" r="8" fill="#ff0000" fill-opacity="0.90"/>
<circle cx="1327.2" cy="2925.0" r="8" fill="#ff0000" fill-opacity="0.90"/>
<circle cx="1369.0" cy="2945.5" r="8" fill="#0000ff" fill-opacity="0.90"/>
<circle cx="1385.9" cy="2946.7" r="8" fill="#0000ff" fill-opacity="0.90"/>
<circle cx="1375.0" cy="2947.0" r="8" fill="#0000ff" fill-opacity="0.90"/>
<circle cx="1294.4" cy="2927.0" r="8" fill="#ff0000" fill-opacity="0.90"/>
<circle cx="1327.0" cy="2927.4" r="8" fill="#ff0000" fill-opacity="0.90"/>
<circle cx="1290.5" cy="2927.5" r="8" fill="#ff0000" fill-opacity="0.90"/>
<circle cx="1381.2" cy="2947.7" r="8" fill="#0000ff" fill-opacity="0.90"/>
<circle cx="1273.5" cy="2927.7" r="8" fill="#ff0000" fill-opacity="1.00"/>
<circle cx="1332.1" cy="2927.9" r="8" fill="#ff0000" fill-opacity="0.90"/>
<circle cx="1336.4" cy="2928.4" r="8" fill="#ff0000" fill-opacity="0.90"/>
<circle cx="1303.0" cy="2928.7" r="8" fill="#ff0000" fill-opacity="0.90"/>
<circle cx="1308.2" cy="2930.2" r="8" fill="#ff0000" fill-opacity="0.90"/>
<circle cx="1380.4" cy="2950.6" r="8" fill="#0000ff" fill-opacity="0.90"/>
<circle cx="1320.2" cy="2930.7" r="8" fill="#ff0000" fill-opacity="0.90"/>
<circle cx="1313.4" cy="2931.0" r="8" fill="#ff0000" fill-opacity="0.90"/>
<circle cx="1279.5" cy="2931.7" r="8" fill="#ff0000" fill-opacity="1.00"/>
<circle cx="1297.6" cy="2932.2" r="8" fill="#ff0000" fill-opacity="0.90"/>
<circle cx="1338.9" cy="2932.2" r="8" fill="#ff0000" fill-opacity="0.90"/>
<circle cx="1328.1" cy="2932.3" r="8" fill="#ff0000" fill-opacity="0.90"/>
<circle cx="1320.6" cy="2932.3" r="8" fill="#ff0000" fill-opacity="0.90"/>
<circle cx="1308.6" cy="2932.7" r="8" fill="#ff0000" fill-opacity="0.90"/>
<circle cx="1376.7" cy="2953.1" r="8" fill="#0000ff" fill-opacity="0.90"/>
<circle cx="1387.1" cy="2953.1" r="8" fill="#0000ff" fill-opacity="0.90"/>
<circle cx="1392.8" cy="2953.5" r="8" fill="#0000ff" fill-opacity="0.90"/>
<circle cx="1333.1" cy="2933.8" r="8" fill="#ff0000" fill-opacity="0.90"/>
<circle cx="1315.0" cy="2934.9" r="8" fill="#ff0000" fill-opacity="0.90"/>
<circle cx="1396.7" cy="2955.4" r="8" fill="#0000ff" fill-opacity="0.90"/>
<circle cx="1306.0" cy="2935.4" r="8" fill="#ff0000" fill-opacity="0.90"/>
<circle cx="1467.1" cy="2956.4" r="8" fill="#0000ff" fill-opacity="0.60"/>
<circle cx="1389.6" cy="2957.0" r="8" fill="#0000ff" fill-opacity="0.90"/>
<circle cx="1384.0" cy="2957.5" r="8" fill="#0000ff" fill-opacity="0.90"/>
<circle cx="1380.7" cy="2957.6" r="8" fill="#0000ff" fill-opacity="0.90"/>
<circle cx="1395.8" cy="2958.0" r="8" fill="#0000ff" fill-opacity="1.00"/>
<circle cx="1330.1" cy="2938.0" r="8" fill="#ff0000" fill-opacity="0.90"/>
<circle cx="1325.3" cy="2938.1" r="8" fill="#ff0000" fill-opacity="0.90"/>
<circle cx="1320.1" cy="2938.3" r="8" fill="#ff0000" fill-opacity="0.90"/>
<circle cx="1347.5" cy="2938.3" r="8" fill="#ff0000" fill-opacity="0.90"/>
<circle cx="1335.4" cy="2938.8" r="8" fill="#ff0000" fill-opacity="0.90"/>
<circle cx="1344.7" cy="2940.1" r="8" fill="#ff0000" fill-opacity="0.90"/>
<circle cx="1426.9" cy="2960.6" r="8" fill="#0000ff" fill-opacity="0.70"/>
<circle cx="1384.3" cy="2961.4" r="8" fill="#0000ff" fill-opacity="0.90"/>
<circle cx="1395.8" cy="2962.5" r="8" fill="#0000ff" fill-opacity="0.90"/>
<circle cx="1326.6" cy="2942.7" r="8" fill="#ff0000" fill-opacity="0.90"/>
<circle cx="1390.0" cy="2963.3" r="8" fill="#0000ff" fill-opacity="0.90"/>
<circle cx="1411.0" cy="2963.5" r="8" fill="#0000ff" fill-opacity="1.00"/>
<circle cx="1339.2" cy="2944.0" r="8" fill="#ff0000" fill-opacity="0.90"/>
<circle cx="1322.2" cy="2944.2" r="8" fill="#ff0000" fill-opacity="0.90"/>
<circle cx="1345.4" cy="2945.6" r="8" fill="#ff0000" fill-opacity="0.90"/>
<circle cx="1352.1" cy="2945.8" r="8" fill="#ff0000" fill-opacity="0.90"/>
<circle cx="1391.1" cy="2966.1" r="8" fill="#0000ff" fill-opacity="0.90"/>
<circle cx="1334.3" cy="2946.5" r="8" fill="#ff0000" fill-opacity="0.90"/>
<circle cx="1398.4" cy="2966.9" r="8" fill="#0000ff" fill-opacity="0.90"/>
<circle cx="1293.4" cy="2947.6" r="8" fill="#ff0000" fill-opacity="0.90"/>
<circle cx="1411.8" cy="2967.9" r="8" fill="#0000ff" fill-opacity="1.00"/>
<circle cx="1331.0" cy="2948.3" r="8" fill="#ff0000" fill-opacity="0.90"/>
<circle cx="1328.8" cy="2948.5" r="8" fill="#ff0000" fill-opacity="0.50"/>
<circle cx="1386.8" cy="2968.9" r="8" fill="#0000ff" fill-opacity="0.90"/>
<circle cx="1401.8" cy="2969.0" r="8" fill="#0000ff" fill-opacity="0.90"/>
<circle cx="1337.4" cy="2949.2" r="8" fill="#ff0000" fill-opacity="0.50"/>
<circle cx="1414.9" cy="2969.5" r="8" fill="#0000ff" fill-opacity="1.00"/>
<circle cx="1344.0" cy="2949.9" r="8" fill="#ff0000" fill-opacity="0.90"/>
<circle cx="1344.0" cy="2949.9" r="8" fill="#ff0000" fill-opacity="0.50"/>
<circle cx="1356.9" cy="2950.2" r="8" fill="#ff0000" fill-opacity="0.90"/>
<circle cx="1390.3" cy="2971.2" r="8" fill="#0000ff" fill-opacity="0.90"/>
<circle cx="1349.5" cy="2951.3" r="8" fill="#ff0000" fill-opacity="0.90"/>
<circle cx="1359.3" cy="2951.3" r="8" fill="#ff0000" fill-opacity="0.90"/>
<circle cx="1336.2" cy="2951.5" r="8" fill="#ff0000" fill-opacity="0.90"/>
<circle cx="1438.8" cy="2971.5" r="8" fill="#0000ff" fill-opacity="0.65"/>
<circle cx="1321.3" cy="2951.6" r="8" fill="#ff0000" fill-opacity="0.90"/>
<circle cx="1394.4" cy="2972.5" r="8" fill="#0000ff" fill-opacity="0.90"/>
<circle cx="1338.6" cy="2953.4" r="8" fill="#ff0000" fill-opacity="0.90"/>
<circle cx="1399.8" cy="2974.0" r="8" fill="#0000ff" fill-opacity="0.90"/>
<circle cx="1344.3" cy="2954.1" r="8" fill="#ff0000" fill-opacity="0.90"/>
<circle cx="1405.2" cy="2974.1" r="8" fill="#0000ff" fill-opacity="0.90"/>
<circle cx="1358.7" cy="2954.2" r="8" fill="#ff0000" fill-opacity="0.50"/>
<circle cx="1331.6" cy="2955.4" r="8" fill="#ff0000" fill-opacity="0.50"/>
<circle cx="1335.4" cy="2955.8" r="8" fill="#ff0000" fill-opacity="0.90"/>
<circle cx="1403.8" cy="2975.9" r="8" fill="#0000ff" fill-opacity="1.00"/>
<circle cx="1362.6" cy="2956.2" r="8" fill="#ff0000" fill-opacity="0.90"/>
<circle cx="1340.7" cy="2956.4" r="8" fill="#ff0000" fill-opacity="0.50"/>
<circle cx="1360.0" cy="2956.5" r="8" fill="#ff0000" fill-opacity="0.90"/>
<circle cx="1352.7" cy="2956.9" r="8" fill="#ff0000" fill-opacity="0.90"/>
<circle cx="1349.3" cy="2957.4" r="8" fill="#ff0000" fill-opacity="0.50"/>
<circle cx="1403.1" cy="2979.1" r="8" fill="#0000ff" fill-opacity="0.90"/>
<circle cx="1355.2" cy="2959.1" r="8" fill="#ff0000" fill-opacity="0.90"/>
<circle cx="1366.5" cy="2959.2" r="8" fill="#ff0000" fill-opacity="0.90"/>
<circle cx="1395.4" cy="2979.3" r="8" fill="#0000ff" fill-opacity="0.90"/>
<circle cx="1343.6" cy="2959.4" r="8" fill="#ff0000" fill-opacity="0.90"/>
<circle cx="1454.2" cy="2979.9" r="8" fill="#0000ff" fill-opacity="0.70"/>
<circle cx="1362.2" cy="2960.2" r="8" fill="#ff0000" fill-opacity="0.90"/>
<circle cx="1348.1" cy="2960.3" r="8" fill="#ff0000" fill-opacity="0.90"/>
<circle cx="1330.6" cy="2960.8" r="8" fill="#ff0000" fill-opacity="0.50"/>
<circle cx="1345.8" cy="2961.4" r="8" fill="#ff0000" fill-opacity="0.50"/>
<circle cx="1367.9" cy="2961.6" r="8" fill="#ff0000" fill-opacity="0.50"/>
<circle cx="1354.1" cy="2962.0" r="8" fill="#ff0000" fill-opacity="0.50"/>
<circle cx="1338.7" cy="2962.4" r="8" fill="#ff0000" fill-opacity="0.50"/>
<circle cx="1362.2" cy="2962.8" r="8" fill="#ff0000" fill-opacity="0.50"/>
<circle cx="1301.8" cy="2963.1" r="8" fill="#ff0000" fill-opacity="0.85"/>
<circle cx="1406.6" cy="2983.4" r="8" fill="#0000ff" fill-opacity="0.90"/>
<circle cx="1333.3" cy="2963.5" r="8" fill="#ff0000" fill-opacity="0.90"/>
<circle cx="1399.4" cy="2984.3" r="8" fill="#0000ff" fill-opacity="0.90"/>
<circle cx="1359.4" cy="2964.8" r="8" fill="#ff0000" fill-opacity="0.90"/>
<circle cx="1414.9" cy="2987.5" r="8" fill="#0000ff" fill-opacity="1.00"/>
<circle cx="1326.3" cy="2967.6" r="8" fill="#ff0000" fill-opacity="0.50"/>
<circle cx="1403.4" cy="2987.9" r="8" fill="#0000ff" fill-opacity="0.90"/>
<circle cx="1348.1" cy="2968.3" r="8" fill="#ff0000" fill-opacity="0.50"/>
<circle cx="1341.7" cy="2968.4" r="8" fill="#ff0000" fill-opacity="0.50"/>
<circle cx="1333.3" cy="2968.4" r="8" fill="#ff0000" fill-opacity="0.50"/>
<circle cx="1358.9" cy="2968.8" r="8" fill="#ff0000" fill-opacity="0.50"/>
<circle cx="1409.1" cy="2989.2" r="8" fill="#0000ff" fill-opacity="0.90"/>
<circle cx="1372.4" cy="2969.6" r="8" fill="#ff0000" fill-opacity="0.50"/>
<circle cx="1413.7" cy="2989.8" r="8" fill="#0000ff" fill-opacity="1.00"/>
<circle cx="1366.8" cy="2970.3" r="8" fill="#ff0000" fill-opacity="0.50"/>
<circle cx="1379.3" cy="2971.1" r="8" fill="#ff0000" fill-opacity="0.50"/>
<circle cx="1349.2" cy="2973.5" r="8" fill="#ff0000" fill-opacity="0.90"/>
<circle cx="1362.8" cy="2974.6" r="8" fill="#ff0000" fill-opacity="0.50"/>
<circle cx="1370.6" cy="2975.3" r="8" fill="#ff0000" fill-opacity="0.50"/>
<circle cx="1346.8" cy="2975.5" r="8" fill="#ff0000" fill-opacity="0.50"/>
<circle cx="1362.0" cy="2975.9" r="8" fill="#ff0000" fill-opacity="1.00"/>
<circle cx="1330.9" cy="2976.8" r="8" fill="#ff0000" fill-opacity="0.50"/>
<circle cx="1378.5" cy="2977.0" r="8" fill="#ff0000" fill-opacity="0.50"/>
<circle cx="1369.1" cy="2977.5" r="8" fill="#ff0000" fill-opacity="0.80"/>
<circle cx="1335.6" cy="2977.5" r="8" fill="#ff0000" fill-opacity="0.50"/>
<circle cx="1354.1" cy="2977.7" r="8" fill="#ff0000" fill-opacity="0.50"/>
<circle cx="1385.2" cy="2977.9" r="8" fill="#ff0000" fill-opacity="0.50"/>
<circle cx="1391.2" cy="2982.0" r="8" fill="#ff0000" fill-opacity="0.50"/>
<circle cx="1341.3" cy="2982.1" r="8" fill="#ff0000" fill-opacity="0.50"/>
<circle cx="1379.3" cy="2983.0" r="8" fill="#ff0000" fill-opacity="0.50"/>
<circle cx="1366.1" cy="2983.2" r="8" fill="#ff0000" fill-opacity="0.50"/>
<circle cx="1418.9" cy="3003.4" r="8" fill="#0000ff" fill-opacity="1.00"/>
<circle cx="1433.9" cy="3003.4" r="8" fill="#0000ff" fill-opacity="1.00"/>
<circle cx="1375.9" cy="2983.9" r="8" fill="#ff0000" fill-opacity="0.80"/>
<circle cx="1373.6" cy="2983.9" r="8" fill="#ff0000" fill-opacity="0.50"/>
<circle cx="1358.7" cy="2984.0" r="8" fill="#ff0000" fill-opacity="0.50"/>
<circle cx="1348.3" cy="2984.6" r="8" fill="#ff0000" fill-opacity="0.50"/>
<circle cx="1309.4" cy="2986.5" r="8" fill="#ff0000" fill-opacity="0.95"/>
<circle cx="1370.0" cy="2988.6" r="8" fill="#ff0000" fill-opacity="0.50"/>
<circle cx="1375.3" cy="2989.2" r="8" fill="#ff0000" fill-opacity="0.50"/>
<circle cx="1357.2" cy="2989.4" r="8" fill="#ff0000" fill-opacity="0.90"/>
<circle cx="1379.1" cy="2989.4" r="8" fill="#ff0000" fill-opacity="0.70"/>
<circle cx="1385.9" cy="2989.8" r="8" fill="#ff0000" fill-opacity="0.70"/>
<circle cx="1352.8" cy="2989.9" r="8" fill="#ff0000" fill-opacity="0.50"/>
<circle cx="1363.1" cy="2990.3" r="8" fill="#ff0000" fill-opacity="0.50"/>
<circle cx="1383.7" cy="2991.4" r="8" fill="#ff0000" fill-opacity="0.50"/>
<circle cx="1344.3" cy="2991.9" r="8" fill="#ff0000" fill-opacity="0.50"/>
<circle cx="1392.3" cy="2992.0" r="8" fill="#ff0000" fill-opacity="0.50"/>
<circle cx="1335.3" cy="2993.4" r="8" fill="#ff0000" fill-opacity="0.95"/>
<circle cx="1471.5" cy="3014.7" r="8" fill="#0000ff" fill-opacity="0.75"/>
<circle cx="1387.4" cy="2995.2" r="8" fill="#ff0000" fill-opacity="0.50"/>
<circle cx="1356.7" cy="2995.6" r="8" fill="#ff0000" fill-opacity="0.50"/>
<circle cx="1397.1" cy="2995.6" r="8" fill="#ff0000" fill-opacity="0.50"/>
<circle cx="1373.6" cy="2995.6" r="8" fill="#ff0000" fill-opacity="0.50"/>
<circle cx="1380.3" cy="2997.0" r="8" fill="#ff0000" fill-opacity="0.50"/>
<circle cx="1399.0" cy="2997.4" r="8" fill="#ff0000" fill-opacity="0.70"/>
<circle cx="1364.6" cy="2998.0" r="8" fill="#ff0000" fill-opacity="0.50"/>
<circle cx="1313.3" cy="2998.4" r="8" fill="#ff0000" fill-opacity="0.95"/>
<circle cx="1431.9" cy="3019.3" r="8" fill="#0000ff" fill-opacity="1.00"/>
<circle cx="1452.0" cy="3019.3" r="8" fill="#0000ff" fill-opacity="0.90"/>
<circle cx="1399.8" cy="2999.8" r="8" fill="#ff0000" fill-opacity="0.70"/>
<circle cx="1358.0" cy="2999.8" r="8" fill="#ff0000" fill-opacity="0.90"/>
<circle cx="1346.2" cy="3000.4" r="8" fill="#ff0000" fill-opacity="0.90"/>
<circle cx="1368.5" cy="3003.7" r="8" fill="#ff0000" fill-opacity="0.50"/>
<circle cx="1402.2" cy="3004.0" r="8" fill="#ff0000" fill-opacity="0.50"/>
<circle cx="1376.6" cy="3004.6" r="8" fill="#ff0000" fill-opacity="0.50"/>
<circle cx="1386.8" cy="3004.7" r="8" fill="#ff0000" fill-opacity="0.50"/>
<circle cx="1371.1" cy="3005.4" r="8" fill="#ff0000" fill-opacity="0.70"/>
<circle cx="1392.0" cy="3005.9" r="8" fill="#ff0000" fill-opacity="0.50"/>
<circle cx="1385.1" cy="3007.4" r="8" fill="#ff0000" fill-opacity="0.80"/>
<circle cx="1405.0" cy="3007.4" r="8" fill="#ff0000" fill-opacity="0.60"/>
<circle cx="1388.4" cy="3009.7" r="8" fill="#ff0000" fill-opacity="0.50"/>
<circle cx="1382.9" cy="3010.0" r="8" fill="#ff0000" fill-opacity="0.50"/>
<circle cx="1395.7" cy="3012.3" r="8" fill="#ff0000" fill-opacity="0.50"/>
<circle cx="1460.2" cy="3036.1" r="8" fill="#0000ff" fill-opacity="0.90"/>
<circle cx="1389.0" cy="3017.3" r="8" fill="#ff0000" fill-opacity="0.90"/>
<circle cx="1417.9" cy="3019.3" r="8" fill="#ff0000" fill-opacity="0.50"/>
<circle cx="1389.8" cy="3019.7" r="8" fill="#ff0000" fill-opacity="0.90"/>
<circle cx="1394.0" cy="3025.3" r="8" fill="#ff0000" fill-opacity="0.90"/>
<circle cx="1483.5" cy="3046.6" r="8" fill="#0000ff" fill-opacity="0.90"/>
<circle cx="1391.8" cy="3026.7" r="8" fill="#ff0000" fill-opacity="0.90"/>
<circle cx="1419.3" cy="3039.6" r="8" fill="#ff0000" fill-opacity="0.60"/>
<circle cx="1502.0" cy="3070.9" r="8" fill="#0000ff" fill-opacity="0.90"/>
<circle cx="1429.7" cy="3058.2" r="8" fill="#ff0000" fill-opacity="0.70"/>
<circle cx="1414.1" cy="3059.2" r="8" fill="#ff0000" fill-opacity="0.90"/>
<circle cx="1492.0" cy="3087.1" r="8" fill="#0000ff" fill-opacity="1.00"/>
<circle cx="1504.0" cy="3095.4" r="8" fill="#0000ff" fill-opacity="1.00"/>
<circle cx="1428.9" cy="3077.5" r="8" fill="#ff0000" fill-opacity="0.80"/>
<circle cx="1471.9" cy="3094.4" r="8" fill="#ff0000" fill-opacity="0.70"/>
<circle cx="1472.9" cy="3100.4" r="8" fill="#ff0000" fill-opacity="0.70"/>
<circle cx="1473.5" cy="3124.3" r="8" fill="#ff0000" fill-opacity="0.85"/>
<circle cx="1502.2" cy="3126.3" r="8" fill="#ff0000" fill-opacity="0.60"/>
<circle cx="1540.6" cy="3195.4" r="8" fill="#ff0000" fill-opacity="0.80"/>
</g>
</g>
</svg></body></html>
